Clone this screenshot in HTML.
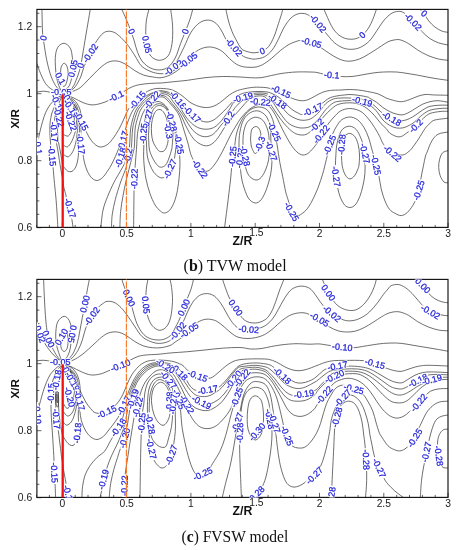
<!DOCTYPE html>
<html lang="en"><head><meta charset="utf-8"><title>Contours</title>
<style>html,body{margin:0;padding:0;background:#fff}svg{display:block}</style></head><body>
<svg width="459" height="550" viewBox="0 0 459 550">
<rect width="459" height="550" fill="#fff"/>
<g>
<clipPath id="c0"><rect x="36.9" y="9.4" width="411.1" height="218.0"/></clipPath>
<g clip-path="url(#c0)" fill="none" stroke="#303030" stroke-width="0.7">
<path d="M41.9 9.4C42.0 11.3 42.1 17.0 42.2 21.0C42.3 25.0 42.3 29.4 42.6 33.2C42.9 37.0 43.3 39.3 44.0 43.7C44.7 48.1 45.6 54.4 46.6 59.4C47.6 64.3 48.8 69.3 50.1 73.4C51.4 77.5 53.0 81.1 54.5 83.8C56.0 86.5 57.5 88.0 58.8 89.5C60.1 91.0 61.7 92.2 62.3 92.8"/>
<path d="M36.9 63.5C37.5 65.2 39.0 70.0 40.5 73.4C42.0 76.8 43.7 81.0 45.7 83.8C47.7 86.6 50.4 88.5 52.7 90.0C55.0 91.5 58.1 92.2 59.7 92.8C61.3 93.4 61.5 93.4 62.5 93.4C63.5 93.4 64.7 93.2 66.0 92.8C67.3 92.4 68.6 92.0 70.2 91.0C71.8 90.0 73.7 88.8 75.4 86.5C77.2 84.2 79.2 80.2 80.7 76.9C82.2 73.6 82.5 70.3 84.1 66.4C85.7 62.5 88.4 57.2 90.3 53.3C92.2 49.4 93.6 45.9 95.5 42.8C97.4 39.7 99.7 36.5 101.6 34.6C103.5 32.7 104.9 31.8 107.0 31.4C109.1 31.0 111.7 31.3 114.0 32.3C116.3 33.3 118.7 35.4 121.0 37.6C123.3 39.8 125.7 42.4 128.0 45.4C130.3 48.4 132.8 52.5 135.0 55.9C137.2 59.2 138.7 63.0 141.0 65.5C143.3 68.0 146.1 69.4 148.9 70.7C151.7 72.0 154.7 73.0 157.6 73.4C160.5 73.8 163.8 74.0 166.4 73.0C169.0 72.0 171.5 69.8 173.4 67.5C175.3 65.2 176.1 62.8 177.9 59.4C179.7 56.0 181.8 51.7 184.0 47.2C186.2 42.7 188.4 36.4 191.0 32.3C193.6 28.2 196.8 24.7 199.7 22.7C202.6 20.7 205.6 20.0 208.4 20.1C211.2 20.2 214.0 21.6 216.3 23.6C218.6 25.6 220.7 29.4 222.4 32.3C224.2 35.2 224.9 38.3 226.8 41.0C228.7 43.7 231.0 46.0 233.8 48.5C236.6 51.0 240.7 54.6 243.4 56.3C246.1 58.0 247.9 58.0 250.0 58.5C252.1 59.0 253.3 59.3 255.7 59.0C258.1 58.7 261.7 58.3 264.5 56.8C267.3 55.3 270.0 52.7 272.3 49.8C274.6 46.9 276.5 42.9 278.4 39.3C280.3 35.7 281.6 31.5 283.7 28.0C285.8 24.5 288.4 20.6 290.7 18.3C293.0 16.0 295.3 14.8 297.6 14.0C299.9 13.2 302.4 13.2 304.6 13.6C306.8 14.0 308.4 14.9 310.7 16.6C313.0 18.3 315.7 20.9 318.5 24.0C321.3 27.1 324.8 31.9 327.5 35.0C330.2 38.1 331.9 40.6 334.5 42.8C337.1 45.0 340.3 46.9 343.2 48.0C346.1 49.1 349.1 49.4 352.0 49.3C354.9 49.2 357.8 48.6 360.7 47.2C363.6 45.8 366.8 43.6 369.4 41.0C372.0 38.4 374.1 34.7 376.4 31.4C378.7 28.1 380.9 24.0 383.4 21.0C385.9 18.0 388.7 15.2 391.2 13.6C393.7 12.0 396.0 11.5 398.2 11.4C400.4 11.3 401.8 11.4 404.3 13.1C406.8 14.8 410.1 18.8 413.0 21.8C415.9 24.9 419.0 28.6 421.8 31.4C424.6 34.2 426.9 36.5 429.7 38.4C432.5 40.3 435.3 41.7 438.4 42.8C441.4 43.9 446.4 44.6 448.0 45.0"/>
<path d="M62.3 92.8C61.7 91.6 59.8 88.5 58.8 85.6C57.8 82.6 56.8 79.8 56.2 75.1C55.6 70.4 55.0 62.2 55.3 57.6C55.6 53.0 56.4 49.6 57.9 47.2C59.4 44.8 62.0 43.2 64.1 43.3C66.1 43.4 68.8 45.6 70.2 48.0C71.6 50.4 71.9 54.2 72.4 57.6C72.9 61.0 73.4 64.9 73.3 68.1C73.2 71.3 72.6 74.0 71.9 76.9C71.2 79.8 70.5 83.3 69.3 85.6C68.1 87.9 66.0 89.3 64.9 90.5C63.8 91.7 62.9 92.4 62.5 92.8"/>
<path d="M60.6 73.4C60.7 71.4 60.5 68.9 61.1 67.2C61.7 65.5 63.1 63.3 64.1 63.2C65.1 63.1 66.3 64.7 67.0 66.4C67.7 68.1 68.1 70.8 68.1 73.4C68.0 76.0 67.4 79.9 66.7 82.1C66.0 84.3 65.0 86.2 64.1 86.5C63.2 86.8 62.1 85.2 61.5 84.0C60.9 82.8 60.4 80.8 60.3 79.0C60.1 77.2 60.5 75.4 60.6 73.4Z"/>
<path d="M90.3 9.4C89.7 12.8 88.0 22.8 86.8 29.7C85.6 36.6 84.3 44.7 83.3 50.7C82.3 56.7 81.6 61.4 80.7 65.5C79.8 69.6 79.2 71.8 78.0 75.1C76.8 78.4 75.2 83.0 73.7 85.6C72.2 88.2 71.0 89.6 69.3 90.8C67.5 92.0 64.2 92.6 63.2 93.0"/>
<path d="M36.9 92.0C38.1 91.9 41.6 91.2 43.9 91.2C46.1 91.2 48.4 92.0 50.4 92.3C52.4 92.6 53.8 93.0 55.7 93.2C57.6 93.4 60.1 93.6 62.0 93.6C63.9 93.6 65.0 93.4 67.0 93.0C69.0 92.6 71.4 92.0 73.7 91.0C76.0 90.0 78.1 89.4 80.7 87.3C83.3 85.2 86.2 81.8 89.4 78.6C92.6 75.4 96.7 70.9 99.9 68.1C103.1 65.3 105.8 63.2 108.7 62.0C111.6 60.8 114.6 60.7 117.5 61.1C120.4 61.5 123.3 63.0 126.2 64.6C129.1 66.2 132.0 69.0 134.9 70.7C137.8 72.5 140.8 74.1 143.7 75.1C146.6 76.1 149.5 76.5 152.4 76.9C155.3 77.3 158.1 78.0 161.0 77.7C163.9 77.4 166.8 76.5 170.0 75.0C173.2 73.5 176.9 71.0 180.0 68.5C183.1 66.0 185.6 63.1 188.3 60.3C191.0 57.5 193.4 53.6 196.2 51.5C199.0 49.4 202.0 48.2 204.9 47.5C207.8 46.8 210.8 46.8 213.7 47.5C216.6 48.2 219.8 49.7 222.4 51.5C225.0 53.3 227.1 56.4 229.4 58.5C231.7 60.6 234.1 62.8 236.4 64.2C238.7 65.6 241.1 66.3 243.4 66.8C245.7 67.3 247.9 67.3 250.0 67.3C252.1 67.3 253.9 67.5 256.0 67.0C258.1 66.5 260.1 66.0 262.7 64.6C265.3 63.2 268.5 60.8 271.4 58.5C274.3 56.2 277.3 53.0 280.2 50.7C283.1 48.4 286.3 46.0 288.9 44.5C291.5 43.0 293.9 42.3 295.9 41.6C297.9 40.9 298.4 40.3 301.0 40.5C303.6 40.7 308.1 41.5 311.5 42.7C314.9 44.0 318.4 46.2 321.4 48.0C324.3 49.8 326.4 51.5 329.2 53.3C332.0 55.0 335.1 57.2 338.0 58.5C340.9 59.8 343.8 60.8 346.7 61.1C349.6 61.4 352.5 61.0 355.4 60.3C358.3 59.6 361.2 58.3 364.1 56.8C367.0 55.3 370.0 53.3 372.9 51.5C375.8 49.7 379.1 47.4 381.6 45.8C384.1 44.2 385.9 42.8 388.0 41.8C390.1 40.8 392.0 40.3 394.0 40.0C396.0 39.7 397.6 39.2 400.0 39.8C402.4 40.4 405.8 42.0 408.7 43.7C411.6 45.4 414.2 47.8 417.4 49.8C420.6 51.8 424.4 54.0 427.9 55.5C431.4 57.0 435.0 58.2 438.4 59.0C441.8 59.8 446.4 60.1 448.0 60.3"/>
<path d="M121.8 9.4C122.5 11.0 124.9 16.1 126.2 19.2C127.5 22.3 128.4 24.5 129.7 28.0C131.0 31.5 132.7 36.1 134.0 40.2C135.3 44.3 136.1 48.8 137.6 52.4C139.1 56.0 140.6 59.4 142.8 62.0C145.0 64.6 147.9 66.8 150.7 68.1C153.5 69.4 156.5 70.1 159.4 69.9C162.3 69.8 165.5 69.2 168.1 67.2C170.7 65.2 173.1 61.9 175.2 58.0C177.3 54.1 178.8 48.1 180.5 43.7C182.2 39.3 183.8 35.5 185.4 31.4C187.0 27.3 188.8 22.9 190.0 19.2C191.2 15.5 192.2 11.0 192.7 9.4"/>
<path d="M148.9 9.4C148.5 11.3 146.8 16.7 146.3 21.0C145.8 25.3 145.7 31.1 145.8 35.0C145.9 38.9 146.0 41.0 146.8 44.5C147.6 48.0 148.6 53.3 150.7 55.9C152.8 58.5 156.5 60.3 159.4 60.3C162.3 60.3 166.0 58.7 168.1 55.9C170.2 53.1 171.2 48.7 172.0 43.7C172.8 38.8 172.8 31.9 172.6 26.2C172.4 20.5 171.0 12.2 170.7 9.4"/>
<path d="M225.9 9.4C226.3 11.3 227.5 17.3 228.5 21.0C229.5 24.7 230.6 27.9 232.0 31.4C233.4 34.9 235.6 39.0 237.2 41.9C238.8 44.8 240.0 47.3 241.6 48.9C243.2 50.5 244.9 50.9 247.0 51.5C249.1 52.1 251.4 52.9 254.0 52.8C256.6 52.7 259.9 52.1 262.4 51.0C264.9 49.9 266.9 48.7 268.8 46.3C270.7 43.9 272.5 40.1 274.0 36.7C275.5 33.4 276.4 29.7 277.6 26.2C278.8 22.7 280.1 18.5 281.0 15.7C281.9 12.9 282.5 10.4 282.8 9.4"/>
<path d="M324.0 9.4C324.6 10.8 326.1 14.4 327.5 17.5C328.9 20.6 330.8 25.1 332.7 28.0C334.6 30.9 336.5 33.2 338.8 35.0C341.1 36.8 343.9 38.2 346.7 38.8C349.5 39.4 352.8 39.4 355.4 38.8C358.0 38.2 360.2 36.8 362.4 35.0C364.6 33.2 366.8 30.6 368.5 28.0C370.2 25.4 371.6 22.3 372.9 19.2C374.2 16.1 375.8 11.0 376.4 9.4"/>
<path d="M420.0 9.4C420.7 10.1 422.5 11.7 424.0 13.6C425.5 15.5 427.0 18.8 428.8 21.0C430.6 23.2 432.7 25.3 434.9 27.0C437.1 28.7 439.7 30.2 441.9 31.1C444.1 32.0 447.0 32.1 448.0 32.3"/>
<path d="M64.6 94.2C66.1 94.8 70.7 96.6 73.8 98.0C76.9 99.4 80.0 101.4 83.0 102.6C86.0 103.8 89.0 104.8 92.0 104.9C95.0 105.0 98.5 104.1 101.3 103.3C104.1 102.5 106.5 101.5 109.0 100.3C111.5 99.1 113.6 97.9 116.3 96.3C119.0 94.7 122.6 92.3 125.2 90.7C127.8 89.1 129.6 87.9 132.0 86.9C134.4 85.9 136.7 85.2 139.8 84.6C142.9 84.0 147.0 83.7 150.5 83.4C154.0 83.1 157.8 83.2 161.0 83.0C164.2 82.8 165.6 82.5 170.0 82.1C174.4 81.6 181.7 81.0 187.5 80.3C193.3 79.6 199.2 78.3 205.0 77.7C210.8 77.1 216.6 76.6 222.4 76.5C228.2 76.4 235.2 76.8 239.9 77.0C244.6 77.2 247.0 77.6 250.5 77.7C254.0 77.8 257.5 78.1 261.0 77.7C264.5 77.3 267.9 76.2 271.4 75.5C274.9 74.8 277.9 74.0 282.0 73.4C286.1 72.8 291.3 72.2 296.0 72.0C300.7 71.8 306.5 71.9 310.0 72.0C313.5 72.1 314.7 72.1 317.0 72.5C319.3 72.9 321.5 73.8 324.0 74.2C326.5 74.6 328.9 74.7 331.8 75.1C334.7 75.5 338.0 76.3 341.4 76.5C344.8 76.7 348.5 76.8 352.0 76.5C355.5 76.2 358.9 75.4 362.4 74.8C365.9 74.2 369.4 73.5 372.9 73.0C376.4 72.5 379.5 72.2 383.4 72.0C387.3 71.8 392.6 71.8 396.5 72.0C400.4 72.2 403.5 72.9 407.0 73.4C410.5 73.9 413.9 74.5 417.4 75.1C420.9 75.7 424.4 76.5 427.9 77.2C431.4 77.9 435.0 78.5 438.4 79.0C441.8 79.5 446.4 80.1 448.0 80.3"/>
<path d="M61.6 95.2C60.6 95.8 57.6 97.6 55.7 99.1C53.8 100.6 52.0 102.1 50.4 104.3C48.8 106.5 47.1 109.3 45.8 112.2C44.5 115.1 43.6 118.1 42.6 121.4C41.6 124.7 40.7 128.6 39.9 131.9C39.1 135.2 38.5 138.0 38.0 141.0C37.5 144.0 37.2 148.5 37.0 150.0"/>
<path d="M61.6 96.0C60.9 96.8 58.8 99.0 57.5 101.0C56.2 103.0 55.0 105.7 54.0 108.0C53.0 110.3 52.1 112.0 51.4 115.0C50.7 118.0 50.1 121.8 49.9 126.0C49.7 130.2 49.9 135.0 50.3 140.0C50.6 145.0 51.5 151.6 52.0 156.0C52.5 160.4 52.6 162.1 53.0 166.7C53.4 171.3 54.0 178.2 54.5 183.5C55.0 188.8 55.6 193.7 56.0 198.8C56.4 203.9 56.8 209.3 57.1 214.0C57.4 218.7 57.7 224.8 57.8 227.0"/>
<path d="M61.8 97.0C61.2 98.2 59.5 101.5 58.5 104.0C57.5 106.5 56.7 109.0 56.0 112.0C55.3 115.0 54.6 118.7 54.3 122.0C54.0 125.3 53.7 128.9 54.0 132.0C54.3 135.1 55.3 137.2 56.0 140.7C56.7 144.2 57.5 148.4 58.3 153.0C59.1 157.6 59.8 163.6 60.6 168.2C61.4 172.8 62.4 177.4 62.9 180.5C63.4 183.6 63.2 184.1 63.7 186.6C64.2 189.1 65.4 193.1 66.0 195.7C66.6 198.2 66.8 199.8 67.5 201.9C68.2 204.0 69.2 205.0 70.0 208.0C70.8 211.0 71.5 216.8 72.0 220.0C72.5 223.2 72.8 225.8 73.0 227.0"/>
<path d="M57.2 124.0C57.4 126.8 57.7 135.9 58.3 140.7C58.9 145.5 59.9 148.9 60.6 153.0C61.3 157.1 62.3 163.0 62.6 165.0"/>
<path d="M57.5 101.0C58.1 100.7 59.1 103.8 59.5 106.0C59.9 108.2 60.0 111.7 59.8 114.0C59.6 116.3 59.0 119.7 58.5 120.0C58.0 120.3 56.9 118.0 56.5 116.0C56.1 114.0 55.8 110.5 56.0 108.0C56.2 105.5 56.9 101.3 57.5 101.0Z"/>
<path d="M58.0 104.0C58.3 104.3 58.7 107.2 58.8 109.0C58.9 110.8 58.7 114.5 58.5 115.0C58.3 115.5 57.7 113.3 57.5 112.0C57.3 110.7 57.1 108.3 57.2 107.0C57.3 105.7 57.7 103.7 58.0 104.0Z"/>
<path d="M63.7 134.6C64.5 134.8 66.9 136.8 68.3 136.0C69.7 135.2 71.0 132.3 72.0 130.0C73.0 127.7 73.6 125.0 74.0 122.0C74.4 119.0 74.8 115.0 74.5 112.0C74.2 109.0 73.2 106.2 72.0 104.0C70.8 101.8 68.4 99.8 67.0 98.5C65.6 97.2 64.1 96.4 63.5 96.0"/>
<path d="M63.7 145.3C64.3 145.6 66.2 147.3 67.5 146.8C68.8 146.3 70.1 144.2 71.3 142.2C72.5 140.2 73.6 137.0 74.4 134.6C75.2 132.2 75.6 130.8 75.9 128.0C76.2 125.2 76.7 121.3 76.5 118.0C76.3 114.7 75.6 110.8 74.5 108.0C73.4 105.2 71.8 102.9 70.0 101.0C68.2 99.1 65.0 97.2 64.0 96.5"/>
<path d="M63.7 154.5C64.5 154.9 66.8 157.3 68.3 156.8C69.8 156.3 71.6 153.8 72.9 151.4C74.2 149.0 75.2 145.0 75.9 142.2C76.6 139.4 76.7 137.3 77.0 134.6C77.3 131.9 77.6 128.9 77.8 126.0C78.0 123.1 78.3 120.0 78.0 117.0C77.7 114.0 77.1 110.7 76.0 108.0C74.9 105.3 73.4 103.0 71.5 101.0C69.6 99.0 65.7 96.8 64.5 96.0"/>
<path d="M63.7 166.7C64.3 167.4 66.1 170.2 67.5 171.0C68.9 171.8 70.7 172.0 72.1 171.3C73.5 170.6 74.9 168.8 75.9 166.7C76.9 164.6 77.5 161.3 77.9 159.0C78.3 156.7 78.3 156.2 78.5 153.0C78.7 149.8 78.8 144.2 79.0 140.0C79.2 135.8 79.5 131.8 79.5 128.0C79.5 124.2 79.6 120.3 79.3 117.0C79.0 113.7 78.5 110.7 77.5 108.0C76.5 105.3 75.1 103.0 73.0 101.0C70.9 99.0 66.3 96.7 65.0 95.8"/>
<path d="M64.5 95.0C65.4 95.8 68.2 97.7 70.0 99.5C71.8 101.3 73.6 103.8 75.0 106.0C76.4 108.2 77.4 110.5 78.5 113.0C79.6 115.5 80.3 118.3 81.4 121.0C82.5 123.7 83.9 126.6 85.2 129.3C86.5 132.0 87.5 134.6 89.0 137.0C90.5 139.4 92.5 142.2 94.4 143.9C96.3 145.6 98.3 146.9 100.5 147.0C102.7 147.1 105.2 146.1 107.4 144.6C109.6 143.1 111.6 140.4 113.5 137.8C115.4 135.2 117.3 132.1 118.9 129.3C120.5 126.5 121.7 123.7 123.0 121.0C124.3 118.3 125.3 115.3 126.5 113.0C127.7 110.7 128.2 109.2 130.0 107.0C131.8 104.8 135.1 102.2 137.5 100.0C139.9 97.8 142.1 95.2 144.3 93.5C146.5 91.8 148.2 90.8 150.5 90.0C152.8 89.2 154.9 88.5 158.0 88.4C161.1 88.3 166.1 88.6 169.2 89.2C172.3 89.8 174.2 90.8 176.8 92.2C179.4 93.6 182.3 95.9 184.5 97.6C186.7 99.3 188.0 101.0 190.0 102.3C192.0 103.6 194.4 104.8 196.6 105.6C198.8 106.4 200.8 107.0 203.0 107.3C205.2 107.6 207.5 107.7 209.7 107.3C211.9 106.9 214.0 106.2 216.2 105.0C218.4 103.8 220.6 102.1 222.8 100.4C225.0 98.7 227.1 96.5 229.3 95.0C231.5 93.5 233.7 92.2 235.9 91.2C238.1 90.2 239.5 89.9 242.4 89.2C245.3 88.5 249.7 87.6 253.6 87.3C257.5 87.0 262.8 87.3 265.9 87.6C269.0 87.9 269.5 88.5 272.0 89.2C274.5 89.9 278.8 90.5 281.0 91.5C283.2 92.5 283.5 94.2 285.4 95.3C287.3 96.4 289.8 97.4 292.2 98.3C294.6 99.2 297.3 100.3 299.9 100.6C302.4 100.9 304.9 100.7 307.5 99.9C310.1 99.1 312.6 97.3 315.2 96.0C317.8 94.7 320.2 93.1 322.8 92.2C325.4 91.3 327.5 90.8 330.5 90.4C333.5 90.0 337.9 90.2 341.0 90.0C344.1 89.8 346.3 89.5 349.2 89.5C352.1 89.5 355.2 89.7 358.3 90.0C361.4 90.3 364.2 90.9 367.5 91.5C370.8 92.1 374.9 92.8 377.9 93.8C380.9 94.8 383.1 96.7 385.7 97.8C388.3 98.9 391.0 99.8 393.6 100.4C396.2 101.1 398.9 101.8 401.5 101.7C404.1 101.6 406.7 100.6 409.3 99.7C411.9 98.8 414.6 97.4 417.2 96.5C419.8 95.6 422.1 94.8 425.0 94.5C427.9 94.2 431.1 94.9 434.9 95.0C438.7 95.1 445.8 95.2 448.0 95.3"/>
<path d="M65.5 95.5C66.9 96.2 71.8 98.1 74.0 100.0C76.2 101.9 77.8 104.5 79.0 107.0C80.2 109.5 80.6 112.0 81.0 115.0C81.4 118.0 81.2 121.7 81.2 125.0C81.2 128.3 80.9 131.8 80.8 135.0C80.7 138.2 80.3 141.0 80.6 144.0C80.9 147.0 82.2 150.0 82.8 153.0C83.4 156.0 83.5 158.9 84.3 162.0C85.1 165.1 86.1 168.6 87.4 171.3C88.7 174.0 90.3 176.7 92.0 178.2C93.7 179.7 95.5 180.6 97.3 180.5C99.1 180.4 101.0 178.9 102.7 177.4C104.4 175.9 106.0 173.2 107.3 171.3C108.6 169.4 109.4 168.4 110.7 166.0C112.0 163.6 113.8 160.0 115.3 156.7C116.8 153.4 118.6 148.6 119.9 146.0C121.2 143.4 122.2 143.5 123.0 141.0C123.8 138.5 124.1 134.5 125.0 131.0C125.9 127.5 127.2 123.3 128.5 120.0C129.8 116.7 131.1 113.5 132.5 111.0C133.9 108.5 135.5 106.8 137.0 105.0C138.5 103.2 139.8 101.6 141.5 100.0C143.2 98.4 145.0 96.8 147.0 95.5C149.0 94.2 151.2 93.3 153.5 92.5C155.8 91.7 158.1 90.6 161.0 90.7C163.9 90.8 168.3 92.0 170.7 93.0C173.1 94.0 173.2 94.8 175.3 96.8C177.4 98.8 180.2 102.1 183.0 105.0C185.8 107.9 189.7 112.0 192.0 114.4C194.3 116.8 195.3 118.5 196.7 119.5C198.1 120.5 198.8 120.3 200.5 120.7C202.2 121.1 204.8 122.1 207.0 122.0C209.2 121.9 211.4 121.2 213.6 120.0C215.8 118.8 217.8 116.8 220.0 114.8C222.2 112.8 224.7 110.3 226.7 108.2C228.7 106.1 230.2 104.2 232.0 102.3C233.8 100.3 235.5 98.0 237.2 96.5C238.9 95.0 240.3 94.2 242.4 93.5C244.5 92.8 247.4 92.3 250.0 92.0C252.6 91.7 255.3 91.5 258.0 91.5C260.7 91.5 263.7 91.5 266.0 91.8C268.3 92.1 269.8 92.5 272.0 93.5C274.2 94.5 276.7 95.8 279.0 97.5C281.3 99.2 283.8 102.0 286.0 104.0C288.2 106.0 290.0 108.0 292.0 109.5C294.0 111.0 296.2 112.2 298.0 113.0C299.8 113.8 300.5 114.9 303.0 114.5C305.5 114.1 309.7 112.3 312.9 110.5C316.1 108.7 319.3 105.5 322.0 103.5C324.7 101.5 326.6 99.5 329.0 98.3C331.4 97.0 334.1 96.5 336.6 96.0C339.1 95.5 342.0 95.2 344.2 95.0C346.4 94.8 347.6 94.5 350.0 94.5C352.4 94.5 355.4 94.9 358.3 95.3C361.2 95.7 365.6 96.5 367.5 97.0C369.4 97.5 368.5 97.5 370.0 98.4C371.5 99.3 374.4 100.8 376.6 102.3C378.8 103.8 380.8 106.1 383.0 107.6C385.2 109.1 387.5 110.4 389.7 111.5C391.9 112.6 394.0 113.5 396.2 114.0C398.4 114.5 400.6 115.1 402.8 114.8C405.0 114.5 407.1 113.3 409.3 112.2C411.5 111.1 413.7 109.5 415.9 108.2C418.1 106.9 420.0 105.4 422.4 104.3C424.8 103.2 427.4 102.3 430.0 101.7C432.6 101.1 435.0 100.6 438.0 100.7C441.0 100.8 446.3 102.0 448.0 102.2"/>
<path d="M100.8 227.4C101.2 224.5 101.9 215.3 103.0 210.2C104.1 205.0 105.8 201.1 107.6 196.5C109.4 191.9 111.8 186.8 113.8 182.7C115.8 178.6 118.2 175.1 119.9 172.0C121.7 168.9 123.0 166.8 124.3 164.0C125.6 161.2 126.6 158.0 127.5 155.0C128.4 152.0 129.0 150.2 129.5 146.0C130.0 141.8 130.0 134.3 130.5 130.0C131.0 125.7 131.6 123.3 132.5 120.0C133.4 116.7 134.6 112.8 136.0 110.0C137.4 107.2 139.6 105.2 141.0 103.5C142.4 101.8 143.0 100.9 144.5 99.5C146.0 98.1 148.1 96.2 150.0 95.0C151.9 93.8 153.8 93.0 156.0 92.5C158.2 92.0 160.7 91.7 163.0 92.0C165.3 92.3 168.0 93.3 170.0 94.5C172.0 95.7 173.3 96.9 175.0 99.0C176.7 101.1 178.2 104.0 180.0 107.0C181.8 110.0 183.8 114.1 186.0 117.0C188.2 119.9 190.8 122.7 193.0 124.5C195.2 126.3 197.0 127.2 199.0 128.0C201.0 128.8 203.0 129.1 205.0 129.2C207.0 129.3 209.1 129.1 211.0 128.6C212.9 128.1 214.4 127.3 216.2 126.0C217.9 124.7 219.8 122.8 221.5 120.7C223.2 118.6 225.2 115.7 226.7 113.5C228.2 111.3 229.4 109.5 230.6 107.6C231.8 105.7 231.9 104.1 233.9 102.3C235.9 100.5 239.7 97.9 242.4 96.5C245.1 95.1 247.4 94.6 250.0 94.0C252.6 93.4 255.3 93.1 258.0 93.0C260.7 92.9 263.8 92.9 266.0 93.5C268.2 94.1 269.1 95.2 271.0 96.5C272.9 97.8 275.3 99.4 277.3 101.4C279.3 103.4 281.0 106.2 283.0 108.5C285.0 110.8 286.9 113.2 289.2 115.0C291.5 116.8 294.5 118.1 296.8 119.0C299.1 119.9 300.7 120.3 303.0 120.3C305.3 120.3 308.1 120.0 310.6 118.8C313.1 117.6 315.6 115.5 318.2 113.0C320.8 110.5 323.3 105.8 325.9 103.5C328.4 101.2 331.0 99.9 333.5 99.0C336.0 98.1 338.4 98.2 341.0 98.0C343.6 97.8 346.2 97.9 349.0 98.0C351.8 98.1 355.2 98.2 358.0 98.6C360.8 99.0 364.0 99.9 366.0 100.5C368.0 101.1 368.5 101.3 370.0 102.3C371.5 103.3 373.4 104.8 375.2 106.3C376.9 107.8 378.7 110.0 380.5 111.5C382.3 113.0 384.1 114.3 386.0 115.5C387.9 116.7 389.8 117.9 391.6 118.7C393.4 119.5 395.1 120.2 397.0 120.5C398.9 120.8 400.8 121.0 402.8 120.7C404.9 120.4 407.1 119.7 409.3 118.7C411.5 117.7 413.7 116.2 415.9 114.8C418.1 113.4 420.0 111.6 422.4 110.2C424.8 108.8 427.1 107.1 430.0 106.3C432.9 105.5 437.0 105.4 440.0 105.2C443.0 105.0 446.7 105.2 448.0 105.2"/>
<path d="M111.5 227.4C111.6 225.3 111.6 219.5 112.2 214.8C112.8 210.2 114.0 204.6 115.3 199.5C116.6 194.4 118.4 188.8 119.9 184.2C121.4 179.6 123.2 175.5 124.5 172.0C125.8 168.5 126.6 165.8 127.5 163.0C128.4 160.2 129.3 157.8 130.0 155.0C130.7 152.2 131.1 150.2 131.5 146.0C131.9 141.8 132.0 134.3 132.5 130.0C133.0 125.7 133.6 123.3 134.5 120.0C135.4 116.7 136.6 112.8 138.0 110.0C139.4 107.2 141.6 105.2 143.0 103.5C144.4 101.8 145.0 101.2 146.5 100.0C148.0 98.8 150.2 97.4 152.0 96.5C153.8 95.6 155.2 95.0 157.0 94.5C158.8 94.0 161.0 93.5 163.0 93.7C165.0 94.0 167.3 94.7 169.0 96.0C170.7 97.3 171.5 99.5 173.0 101.5C174.5 103.5 176.4 105.8 178.0 108.0C179.6 110.2 180.9 112.0 182.6 114.5C184.2 117.0 186.2 120.6 187.9 123.3C189.7 126.0 191.1 128.5 193.1 130.5C195.1 132.5 197.5 134.4 199.7 135.4C201.9 136.4 204.0 136.8 206.2 136.7C208.4 136.5 210.8 135.8 212.8 134.5C214.8 133.2 216.5 130.9 218.0 129.2C219.5 127.4 220.3 125.6 222.0 124.0C223.7 122.4 226.1 121.7 228.0 119.4C229.9 117.1 231.8 112.6 233.3 110.2C234.8 107.8 235.7 106.9 237.2 105.3C238.7 103.7 240.3 102.0 242.4 100.5C244.5 99.0 247.4 97.0 250.0 96.0C252.6 95.0 255.5 94.7 258.0 94.5C260.5 94.3 263.0 94.3 265.0 95.0C267.0 95.7 268.3 96.8 270.0 98.5C271.7 100.2 273.3 103.1 275.0 105.5C276.7 107.9 277.9 110.2 280.0 113.0C282.1 115.8 285.1 120.2 287.6 122.5C290.2 124.8 292.7 125.9 295.3 126.8C297.9 127.7 300.4 128.1 303.0 128.0C305.6 127.9 308.1 127.7 310.6 126.3C313.1 124.9 315.6 122.3 318.2 119.5C320.8 116.7 323.3 112.3 325.9 109.5C328.4 106.7 331.1 104.2 333.5 102.8C335.9 101.4 337.1 101.6 340.0 101.2C342.9 100.8 347.0 100.6 350.7 100.6C354.4 100.6 359.0 100.6 362.2 101.4C365.4 102.2 367.7 104.0 370.0 105.5C372.3 107.0 373.8 108.1 376.0 110.5C378.2 112.9 380.7 117.5 383.0 120.0C385.3 122.5 387.5 124.0 389.7 125.3C391.9 126.6 394.0 127.5 396.2 127.9C398.4 128.3 400.6 128.3 402.8 127.9C405.0 127.5 407.4 126.3 409.3 125.3C411.2 124.3 412.3 123.8 414.5 122.0C416.7 120.2 419.8 116.8 422.4 114.8C425.0 112.8 427.1 111.2 430.0 110.2C432.9 109.2 437.0 108.8 440.0 108.5C443.0 108.2 446.7 108.3 448.0 108.3"/>
<path d="M119.9 227.4C120.0 224.8 120.1 216.8 120.6 211.7C121.1 206.5 122.0 201.6 122.9 196.5C123.8 191.4 124.8 186.3 126.0 181.2C127.2 176.1 128.7 170.5 129.8 165.9C131.0 161.3 132.1 156.9 132.9 153.6C133.7 150.3 134.1 149.9 134.4 146.0C134.8 142.1 134.6 134.3 135.0 130.0C135.4 125.7 136.1 123.3 137.0 120.0C137.9 116.7 139.1 112.8 140.5 110.0C141.9 107.2 144.1 105.2 145.5 103.5C146.9 101.8 147.6 101.0 149.0 100.0C150.4 99.0 152.4 98.2 154.0 97.5C155.6 96.8 157.0 96.3 158.5 96.0C160.0 95.7 161.5 95.2 163.0 95.5C164.5 95.8 166.0 96.7 167.5 98.0C169.0 99.3 170.4 101.6 172.0 103.5C173.6 105.4 175.4 107.4 177.0 109.5C178.6 111.6 179.9 113.5 181.3 116.0C182.7 118.5 183.7 121.5 185.2 124.6C186.7 127.7 188.8 131.8 190.5 134.5C192.2 137.2 193.7 139.2 195.7 141.0C197.7 142.8 200.2 144.2 202.3 145.0C204.4 145.8 206.2 146.0 208.2 145.6C210.1 145.2 212.2 143.9 214.0 142.3C215.8 140.7 217.5 138.3 219.3 135.8C221.1 133.3 223.0 129.7 224.6 127.3C226.2 124.9 227.6 123.3 229.0 121.5C230.4 119.7 231.7 118.2 233.3 116.5C234.9 114.8 236.6 113.2 238.5 111.0C240.4 108.8 242.9 105.7 245.0 103.5C247.1 101.3 248.8 99.2 251.0 98.0C253.2 96.8 255.8 96.2 258.0 96.0C260.2 95.8 262.3 95.8 264.0 96.5C265.7 97.2 266.5 98.1 268.0 100.0C269.5 101.9 271.0 105.0 273.0 108.0C275.0 111.0 277.6 115.0 280.0 118.2C282.4 121.4 285.1 124.9 287.6 127.4C290.2 130.0 292.7 132.2 295.3 133.5C297.9 134.8 300.7 135.1 303.0 135.0C305.3 134.9 306.7 134.4 309.0 132.7C311.3 131.0 314.1 127.8 316.7 125.0C319.2 122.2 322.0 118.5 324.3 116.0C326.6 113.5 328.2 111.7 330.5 109.8C332.8 107.9 334.7 105.7 337.9 104.5C341.1 103.3 346.0 102.8 349.7 102.8C353.4 102.8 356.9 103.4 360.0 104.5C363.1 105.6 365.6 107.3 368.0 109.2C370.4 111.1 372.4 113.3 374.6 115.7C376.8 118.1 379.0 121.4 381.0 123.6C383.0 125.8 384.9 127.2 386.4 128.8C387.8 130.4 388.1 131.7 389.7 133.0C391.3 134.3 394.2 135.8 396.2 136.4C398.2 137.0 399.8 137.0 401.5 136.4C403.2 135.8 404.3 134.7 406.7 133.0C409.1 131.3 413.1 128.5 415.9 126.0C418.7 123.5 421.3 120.1 423.7 118.0C426.1 115.9 427.3 114.6 430.0 113.5C432.7 112.4 437.0 111.9 440.0 111.5C443.0 111.1 446.7 111.3 448.0 111.3"/>
<path d="M133.6 227.4C133.7 221.5 133.9 200.1 134.0 192.0C134.1 183.9 134.2 184.1 134.4 179.0C134.7 173.9 135.1 166.8 135.5 161.3C135.9 155.8 136.4 150.6 136.7 146.0C137.0 141.4 136.9 137.9 137.5 133.5C138.1 129.1 139.4 123.6 140.5 119.8C141.6 116.0 142.4 113.9 144.3 110.6C146.2 107.3 149.7 102.2 152.0 100.0C154.3 97.8 156.2 98.0 158.0 97.5C159.8 97.0 161.5 96.6 163.0 97.0C164.5 97.4 165.5 98.6 167.0 100.0C168.5 101.4 170.4 103.7 172.0 105.5C173.6 107.3 175.2 109.0 176.5 111.0C177.8 113.0 178.8 114.3 180.0 117.5C181.2 120.7 182.6 125.8 183.9 130.0C185.2 134.2 186.8 139.1 187.9 143.0C189.0 146.9 189.6 150.6 190.6 153.6C191.6 156.6 192.5 158.4 194.0 161.0C195.5 163.6 197.6 167.3 199.8 169.0C202.0 170.7 205.1 171.7 207.4 171.2C209.7 170.7 211.5 168.3 213.5 165.9C215.5 163.5 217.6 160.1 219.6 156.7C221.6 153.3 223.6 149.2 225.4 145.6C227.2 142.0 228.8 138.3 230.6 135.0C232.3 131.7 234.2 128.8 235.9 126.0C237.6 123.2 239.2 120.3 241.0 118.0C242.8 115.7 244.6 113.8 246.4 112.0C248.2 110.2 249.7 108.8 252.0 107.5C254.3 106.2 257.8 104.3 260.5 104.0C263.2 103.7 265.9 104.3 268.0 105.5C270.1 106.7 271.5 108.9 273.0 111.0C274.5 113.1 275.8 115.8 277.0 118.0C278.2 120.2 278.7 121.7 280.0 124.3C281.3 126.9 282.8 130.2 284.6 133.5C286.4 136.8 288.7 141.1 290.7 144.2C292.7 147.3 294.8 150.1 296.8 151.9C298.9 153.7 301.0 154.9 303.0 155.0C305.0 155.1 307.0 154.2 309.0 152.6C311.0 151.0 313.7 147.6 315.2 145.7C316.7 143.8 317.2 142.9 318.2 141.0C319.2 139.1 320.0 136.6 321.3 134.3C322.6 132.0 324.6 129.1 326.0 127.0C327.4 124.9 328.7 123.3 330.0 121.6C331.3 119.9 332.2 118.8 334.0 117.0C335.8 115.2 337.9 112.4 340.5 111.0C343.1 109.6 346.4 108.5 349.7 108.5C352.9 108.5 356.9 109.4 360.0 111.0C363.1 112.6 365.6 115.5 368.0 118.3C370.4 121.0 372.6 124.4 374.6 127.5C376.6 130.6 378.3 133.8 379.8 136.7C381.3 139.5 381.6 141.9 383.7 144.6C385.8 147.3 389.3 151.3 392.5 153.0C395.7 154.7 400.1 155.3 402.8 155.0C405.5 154.7 407.4 152.5 408.9 151.4C410.4 150.3 410.4 150.3 412.0 148.2C413.6 146.1 416.3 142.3 418.5 139.0C420.7 135.7 423.1 131.2 425.0 128.6C426.9 126.0 428.4 124.7 430.0 123.3C431.6 121.9 431.9 120.8 434.9 120.0C437.9 119.2 445.8 118.5 448.0 118.2"/>
<path d="M143.8 146.0C143.8 149.8 143.5 152.7 143.6 156.0C143.7 159.3 143.8 162.2 144.2 166.0C144.6 169.8 145.1 174.4 146.0 179.0C146.9 183.6 148.4 189.0 149.9 193.3C151.4 197.6 153.3 202.1 155.1 205.0C156.8 207.9 158.9 209.7 160.4 211.0C161.9 212.3 162.8 213.1 164.3 213.0C165.8 212.9 168.0 212.1 169.6 210.3C171.2 208.5 172.8 205.7 174.1 202.4C175.4 199.1 176.6 194.8 177.4 190.6C178.2 186.4 178.8 181.1 179.2 177.0C179.6 172.9 179.8 169.8 179.9 165.9C180.0 162.0 179.8 157.2 179.6 153.6C179.4 149.9 179.5 147.3 179.0 144.0C178.5 140.7 177.2 137.0 176.5 134.0C175.8 131.0 175.3 129.0 174.5 126.0C173.7 123.0 172.7 118.9 171.5 116.0C170.3 113.1 169.0 110.6 167.6 108.5C166.2 106.4 164.6 104.7 163.0 103.5C161.4 102.3 159.7 101.5 158.0 101.5C156.3 101.5 154.5 102.2 153.0 103.5C151.5 104.8 150.3 106.6 149.0 109.0C147.7 111.4 146.2 113.9 145.3 118.0C144.4 122.1 143.8 128.8 143.6 133.5C143.3 138.2 143.8 142.2 143.8 146.0Z"/>
<path d="M146.6 146.0C146.8 149.8 146.8 152.9 147.3 156.0C147.8 159.1 148.7 161.8 149.8 164.5C150.9 167.2 152.3 170.2 153.8 172.3C155.3 174.4 157.5 176.1 159.0 177.0C160.5 177.9 161.5 178.1 163.0 177.8C164.5 177.5 166.6 176.8 168.0 175.3C169.4 173.8 170.4 171.9 171.5 169.0C172.6 166.1 173.8 161.8 174.5 158.0C175.2 154.2 175.8 149.8 176.0 146.0C176.2 142.2 175.9 138.5 175.5 135.0C175.1 131.5 174.3 128.2 173.5 125.0C172.7 121.8 171.7 118.3 170.5 115.5C169.3 112.7 167.9 109.9 166.5 108.0C165.1 106.1 163.6 105.0 162.0 104.3C160.4 103.6 158.6 103.5 157.0 104.0C155.4 104.5 153.8 105.6 152.5 107.0C151.2 108.4 150.4 110.2 149.5 112.5C148.6 114.8 147.8 117.6 147.3 121.0C146.8 124.4 146.4 128.8 146.3 133.0C146.2 137.2 146.4 142.2 146.6 146.0Z"/>
<path d="M149.5 150.0C150.2 152.9 151.8 156.6 153.2 159.2C154.6 161.8 156.4 164.4 157.8 165.7C159.2 167.0 160.2 167.3 161.5 167.2C162.8 167.0 164.6 166.3 165.8 164.8C167.1 163.3 168.1 160.5 169.0 158.0C169.9 155.5 171.0 152.1 171.5 150.0C172.0 147.9 171.9 148.9 172.2 145.7C172.4 142.4 173.2 135.1 173.0 130.5C172.8 125.9 171.8 121.5 170.7 118.0C169.6 114.5 167.9 111.5 166.5 109.5C165.1 107.5 163.5 106.6 162.0 106.0C160.5 105.4 158.8 105.4 157.5 105.8C156.2 106.2 154.9 107.4 154.0 108.5C153.1 109.6 152.7 110.6 152.0 112.5C151.3 114.4 150.4 116.6 149.8 120.0C149.2 123.4 148.8 129.3 148.6 133.0C148.4 136.7 148.7 139.2 148.8 142.0C149.0 144.8 148.8 147.1 149.5 150.0Z"/>
<path d="M155.5 146.5C156.6 148.2 158.0 150.6 159.5 151.3C161.0 152.0 163.2 151.8 164.5 150.5C165.8 149.2 166.9 146.4 167.6 143.5C168.3 140.6 168.5 136.4 168.5 133.0C168.5 129.6 168.2 125.9 167.6 122.8C167.0 119.7 166.1 116.7 165.0 114.5C163.9 112.3 162.4 110.5 161.0 109.8C159.6 109.1 157.8 109.5 156.5 110.5C155.2 111.5 154.1 113.8 153.3 116.0C152.5 118.2 151.9 121.2 151.6 124.0C151.3 126.8 151.3 130.2 151.5 133.0C151.7 135.8 152.1 138.8 152.8 141.0C153.5 143.2 154.4 144.8 155.5 146.5Z"/>
<path d="M224.6 227.4C225.1 223.5 226.7 211.2 227.6 204.0C228.5 196.8 229.3 190.0 230.0 184.2C230.7 178.4 231.1 173.6 231.5 169.0C231.9 164.4 232.0 160.4 232.5 156.7C233.0 153.0 234.0 150.4 234.6 147.0C235.2 143.6 235.2 139.9 235.9 136.4C236.6 132.9 237.7 129.3 239.0 126.0C240.3 122.7 241.9 119.5 243.7 116.8C245.5 114.1 247.6 111.6 250.0 110.0C252.4 108.4 255.3 107.2 258.0 107.0C260.7 106.8 263.8 107.6 266.0 109.0C268.2 110.4 269.7 113.0 271.0 115.5C272.3 118.0 273.3 121.1 274.0 124.0C274.7 126.9 274.4 129.0 275.0 132.7C275.6 136.4 276.5 141.2 277.3 146.0C278.1 150.8 278.7 156.2 279.6 161.3C280.5 166.4 281.7 171.5 282.7 176.6C283.7 181.7 284.8 188.1 285.7 191.9C286.6 195.7 287.0 196.2 288.0 199.5C289.0 202.8 290.2 208.9 291.5 211.7C292.8 214.5 294.8 215.7 296.0 216.3C297.2 217.0 297.3 216.6 299.0 215.6C300.7 214.6 303.8 212.6 306.0 210.2C308.2 207.8 310.0 204.8 312.0 201.0C314.0 197.2 316.4 191.9 318.2 187.3C320.0 182.7 321.5 177.8 322.8 173.5C324.1 169.2 325.1 164.4 325.9 161.3C326.7 158.2 326.8 157.8 327.4 155.0C328.0 152.2 328.8 147.7 329.7 144.2C330.6 140.7 331.5 137.0 332.6 134.0C333.8 131.0 335.1 128.6 336.6 126.2C338.1 123.8 339.6 121.2 341.8 119.7C344.0 118.2 347.1 117.0 349.7 117.0C352.3 117.0 355.1 118.0 357.5 119.7C359.9 121.5 362.1 124.5 364.0 127.5C365.9 130.6 367.4 134.3 368.7 138.0C370.0 141.7 371.1 146.7 372.0 149.8C372.9 152.9 373.4 153.9 374.0 156.4C374.6 158.9 375.1 161.6 375.9 165.0C376.7 168.4 378.1 172.6 379.0 176.6C379.9 180.6 380.2 184.7 381.2 188.8C382.2 192.9 383.6 197.6 385.0 201.0C386.4 204.4 387.9 207.3 389.6 209.4C391.3 211.5 393.1 212.3 395.0 213.3C396.9 214.3 399.1 215.7 401.2 215.6C403.2 215.5 405.4 214.2 407.3 212.5C409.2 210.8 411.2 208.0 412.7 205.6C414.2 203.2 415.5 200.6 416.5 198.0C417.5 195.4 418.1 193.6 418.8 190.3C419.6 187.0 420.2 182.1 421.0 178.0C421.8 173.9 422.6 169.6 423.4 165.9C424.1 162.2 424.9 158.3 425.5 156.0C426.1 153.7 426.1 154.4 427.2 151.9C428.2 149.4 430.0 143.9 431.8 141.0C433.6 138.1 435.2 135.8 437.9 134.3C440.6 132.8 446.3 132.4 448.0 132.0"/>
<path d="M239.9 132.0C239.1 136.6 238.9 140.9 239.0 147.3C239.1 153.7 239.9 164.3 240.6 170.5C241.3 176.7 241.7 179.6 243.0 184.2C244.3 188.8 246.3 194.9 248.3 198.0C250.3 201.1 253.0 202.8 255.2 203.0C257.4 203.2 259.4 201.9 261.3 199.5C263.2 197.1 265.1 192.9 266.6 188.8C268.1 184.7 269.6 179.6 270.5 175.0C271.4 170.4 271.9 165.5 272.0 161.3C272.1 157.1 271.4 153.9 271.2 150.0C271.0 146.1 271.0 142.0 270.8 138.0C270.6 134.0 270.8 129.7 270.0 126.0C269.2 122.3 267.9 118.5 266.0 116.0C264.1 113.5 261.1 111.6 258.5 111.0C255.9 110.4 253.1 111.1 250.6 112.5C248.1 113.9 245.5 116.2 243.7 119.5C241.9 122.8 240.7 127.4 239.9 132.0Z"/>
<path d="M243.0 145.7C242.9 141.4 242.9 136.0 243.7 132.0C244.4 128.0 245.6 124.3 247.5 121.8C249.4 119.3 252.6 117.5 255.2 117.2C257.8 117.0 260.8 118.3 262.8 120.3C264.8 122.3 266.4 126.0 267.4 129.0C268.4 131.9 268.7 134.5 269.0 138.0C269.3 141.5 269.4 146.4 269.3 150.0C269.2 153.6 269.2 156.6 268.6 159.8C268.0 163.0 267.1 166.1 265.9 169.0C264.7 171.9 262.9 175.5 261.3 177.3C259.7 179.1 257.9 180.1 256.0 180.0C254.1 179.9 251.5 178.4 249.8 176.6C248.1 174.8 246.9 172.1 246.0 169.0C245.1 165.9 244.7 161.9 244.2 158.0C243.7 154.1 243.1 150.0 243.0 145.7Z"/>
<path d="M252.9 150.3C253.5 151.6 254.2 153.4 255.0 153.5C255.8 153.6 257.2 152.6 258.0 151.0C258.8 149.4 259.5 146.4 260.0 144.0C260.5 141.6 261.0 138.8 261.0 136.6C261.0 134.3 260.7 132.2 260.0 130.5C259.3 128.8 258.0 126.8 256.7 126.6C255.4 126.3 253.0 127.1 252.0 129.0C251.0 130.9 250.7 135.2 250.6 138.0C250.5 140.8 250.9 143.9 251.3 146.0C251.7 148.1 252.3 149.1 252.9 150.3Z"/>
<path d="M335.4 165.9C335.4 162.3 335.7 158.3 335.9 155.0C336.1 151.7 336.1 149.2 336.6 145.9C337.2 142.6 338.1 138.2 339.2 135.4C340.3 132.6 341.2 130.3 343.0 128.8C344.8 127.3 347.5 126.1 349.7 126.2C351.9 126.3 354.3 127.5 356.2 129.5C358.1 131.5 359.6 135.2 360.8 138.0C362.0 140.8 362.6 142.3 363.3 146.0C364.0 149.7 364.6 155.4 364.9 160.0C365.2 164.6 365.2 169.2 364.9 173.5C364.6 177.8 363.8 182.0 362.9 185.8C362.0 189.6 361.1 193.3 359.8 196.5C358.5 199.7 356.9 203.1 355.2 204.9C353.5 206.7 351.7 207.5 349.9 207.5C348.1 207.5 346.1 206.7 344.5 204.9C342.9 203.1 341.1 199.4 340.0 196.5C338.9 193.6 338.3 190.6 337.6 187.3C336.9 184.0 336.4 180.2 336.0 176.6C335.6 173.0 335.4 169.5 335.4 165.9Z"/>
<path d="M341.5 155.0C341.4 151.7 341.4 148.5 341.5 146.0C341.6 143.5 341.3 141.7 341.8 140.0C342.3 138.3 343.1 137.1 344.4 136.0C345.7 134.9 347.9 133.3 349.7 133.4C351.4 133.5 353.5 134.8 354.9 136.7C356.3 138.6 357.4 141.5 358.2 144.6C359.0 147.7 359.4 151.6 359.5 155.0C359.6 158.4 359.3 162.5 359.0 165.0C358.7 167.5 358.2 168.2 357.5 170.0C356.8 171.8 355.8 174.3 354.5 175.8C353.2 177.3 351.4 179.0 349.9 178.9C348.4 178.8 346.6 177.2 345.3 175.0C344.0 172.8 342.8 169.2 342.2 165.9C341.6 162.6 341.6 158.3 341.5 155.0Z"/>
<path d="M448.0 150.6C447.1 151.0 443.9 151.4 442.5 152.9C441.1 154.4 440.1 157.4 439.5 159.8C438.9 162.2 438.6 164.7 438.7 167.4C438.8 170.1 439.3 173.4 440.2 175.8C441.1 178.2 442.7 180.8 444.0 182.0C445.3 183.2 447.3 182.6 448.0 182.7"/>
</g>
<g stroke="#222" stroke-width="0.7">
<line x1="36.6" y1="227.4" x2="36.6" y2="224.9"/>
<line x1="49.4" y1="227.4" x2="49.4" y2="224.9"/>
<line x1="62.3" y1="227.4" x2="62.3" y2="222.9"/>
<line x1="75.2" y1="227.4" x2="75.2" y2="224.9"/>
<line x1="88.0" y1="227.4" x2="88.0" y2="224.9"/>
<line x1="100.9" y1="227.4" x2="100.9" y2="224.9"/>
<line x1="113.7" y1="227.4" x2="113.7" y2="224.9"/>
<line x1="126.6" y1="227.4" x2="126.6" y2="222.9"/>
<line x1="139.5" y1="227.4" x2="139.5" y2="224.9"/>
<line x1="152.3" y1="227.4" x2="152.3" y2="224.9"/>
<line x1="165.2" y1="227.4" x2="165.2" y2="224.9"/>
<line x1="178.0" y1="227.4" x2="178.0" y2="224.9"/>
<line x1="190.9" y1="227.4" x2="190.9" y2="222.9"/>
<line x1="203.8" y1="227.4" x2="203.8" y2="224.9"/>
<line x1="216.6" y1="227.4" x2="216.6" y2="224.9"/>
<line x1="229.5" y1="227.4" x2="229.5" y2="224.9"/>
<line x1="242.3" y1="227.4" x2="242.3" y2="224.9"/>
<line x1="255.2" y1="227.4" x2="255.2" y2="222.9"/>
<line x1="268.1" y1="227.4" x2="268.1" y2="224.9"/>
<line x1="280.9" y1="227.4" x2="280.9" y2="224.9"/>
<line x1="293.8" y1="227.4" x2="293.8" y2="224.9"/>
<line x1="306.6" y1="227.4" x2="306.6" y2="224.9"/>
<line x1="319.5" y1="227.4" x2="319.5" y2="222.9"/>
<line x1="332.4" y1="227.4" x2="332.4" y2="224.9"/>
<line x1="345.2" y1="227.4" x2="345.2" y2="224.9"/>
<line x1="358.1" y1="227.4" x2="358.1" y2="224.9"/>
<line x1="370.9" y1="227.4" x2="370.9" y2="224.9"/>
<line x1="383.8" y1="227.4" x2="383.8" y2="222.9"/>
<line x1="396.7" y1="227.4" x2="396.7" y2="224.9"/>
<line x1="409.5" y1="227.4" x2="409.5" y2="224.9"/>
<line x1="422.4" y1="227.4" x2="422.4" y2="224.9"/>
<line x1="435.2" y1="227.4" x2="435.2" y2="224.9"/>
<line x1="448.1" y1="227.4" x2="448.1" y2="222.9"/>
<line x1="36.9" y1="227.7" x2="41.4" y2="227.7"/>
<line x1="36.9" y1="214.3" x2="39.4" y2="214.3"/>
<line x1="36.9" y1="200.9" x2="39.4" y2="200.9"/>
<line x1="36.9" y1="187.5" x2="39.4" y2="187.5"/>
<line x1="36.9" y1="174.1" x2="39.4" y2="174.1"/>
<line x1="36.9" y1="160.7" x2="41.4" y2="160.7"/>
<line x1="36.9" y1="147.3" x2="39.4" y2="147.3"/>
<line x1="36.9" y1="133.9" x2="39.4" y2="133.9"/>
<line x1="36.9" y1="120.5" x2="39.4" y2="120.5"/>
<line x1="36.9" y1="107.1" x2="39.4" y2="107.1"/>
<line x1="36.9" y1="93.7" x2="41.4" y2="93.7"/>
<line x1="36.9" y1="80.3" x2="39.4" y2="80.3"/>
<line x1="36.9" y1="66.9" x2="39.4" y2="66.9"/>
<line x1="36.9" y1="53.5" x2="39.4" y2="53.5"/>
<line x1="36.9" y1="40.1" x2="39.4" y2="40.1"/>
<line x1="36.9" y1="26.7" x2="41.4" y2="26.7"/>
<line x1="36.9" y1="13.3" x2="39.4" y2="13.3"/>
</g>
<rect x="36.9" y="9.4" width="411.1" height="218.0" fill="none" stroke="#111" stroke-width="1.15"/>
<g font-family="Liberation Sans, Arial, sans-serif" font-size="10.3" fill="#1a1a1a">
<text x="62.3" y="236.9" text-anchor="middle">0</text>
<text x="126.6" y="236.9" text-anchor="middle">0.5</text>
<text x="190.9" y="236.9" text-anchor="middle">1</text>
<text x="256.4" y="236.3" text-anchor="middle">1.5</text>
<text x="319.5" y="236.9" text-anchor="middle">2</text>
<text x="383.8" y="236.9" text-anchor="middle">2.5</text>
<text x="448.1" y="236.9" text-anchor="middle">3</text>
<text x="32.2" y="231.4" text-anchor="end">0.6</text>
<text x="32.2" y="164.4" text-anchor="end">0.8</text>
<text x="32.2" y="97.4" text-anchor="end">1</text>
<text x="32.2" y="30.4" text-anchor="end">1.2</text>
</g>
<text x="242.4" y="245.4" text-anchor="middle" font-family="Liberation Sans, Arial, sans-serif" font-weight="bold" font-size="12.3" fill="#111">Z/R</text>
<text transform="translate(18.8 118.8) rotate(-90)" text-anchor="middle" font-family="Liberation Sans, Arial, sans-serif" font-weight="bold" font-size="11.6" fill="#111">X/R</text>
<g clip-path="url(#c0)" font-family="Liberation Sans, Arial, sans-serif" font-size="9.0" fill="#2222d8" text-anchor="middle">
<g transform="translate(43.6 38.0) rotate(-75)"><rect x="-3.7" y="-1.8" width="7.4" height="3.6" fill="#fff" stroke="none"/><text y="3" stroke="#fff" stroke-width="1.3" fill="#fff">0</text><text y="3" stroke="#2222d8" stroke-width="0.25">0</text></g>
<g transform="translate(73.0 68.5) rotate(-78)"><rect x="-10.0" y="-1.8" width="19.9" height="3.6" fill="#fff" stroke="none"/><text y="3" stroke="#fff" stroke-width="1.3" fill="#fff">0.05</text><text y="3" stroke="#2222d8" stroke-width="0.25">0.05</text></g>
<g transform="translate(60.3 78.6) rotate(62)"><rect x="-7.5" y="-1.8" width="14.9" height="3.6" fill="#fff" stroke="none"/><text y="3" stroke="#fff" stroke-width="1.3" fill="#fff">0.1</text><text y="3" stroke="#2222d8" stroke-width="0.25">0.1</text></g>
<g transform="translate(80.7 65.5) rotate(-72)"><rect x="-3.7" y="-1.8" width="7.4" height="3.6" fill="#fff" stroke="none"/><text y="3" stroke="#fff" stroke-width="1.3" fill="#fff">0</text><text y="3" stroke="#2222d8" stroke-width="0.25">0</text></g>
<g transform="translate(90.3 53.3) rotate(-57)"><rect x="-11.5" y="-1.8" width="22.9" height="3.6" fill="#fff" stroke="none"/><text y="3" stroke="#fff" stroke-width="1.3" fill="#fff">-0.02</text><text y="3" stroke="#2222d8" stroke-width="0.25">-0.02</text></g>
<g transform="translate(61.3 92.2) rotate(0)"><rect x="-11.5" y="-1.8" width="22.9" height="3.6" fill="#fff" stroke="none"/><text y="3" stroke="#fff" stroke-width="1.3" fill="#fff">-0.05</text><text y="3" stroke="#2222d8" stroke-width="0.25">-0.05</text></g>
<g transform="translate(131.4 31.4) rotate(68)"><rect x="-3.7" y="-1.8" width="7.4" height="3.6" fill="#fff" stroke="none"/><text y="3" stroke="#fff" stroke-width="1.3" fill="#fff">0</text><text y="3" stroke="#2222d8" stroke-width="0.25">0</text></g>
<g transform="translate(146.8 44.5) rotate(78)"><rect x="-10.0" y="-1.8" width="19.9" height="3.6" fill="#fff" stroke="none"/><text y="3" stroke="#fff" stroke-width="1.3" fill="#fff">0.05</text><text y="3" stroke="#2222d8" stroke-width="0.25">0.05</text></g>
<g transform="translate(173.4 67.8) rotate(-35)"><rect x="-11.5" y="-1.8" width="22.9" height="3.6" fill="#fff" stroke="none"/><text y="3" stroke="#fff" stroke-width="1.3" fill="#fff">-0.02</text><text y="3" stroke="#2222d8" stroke-width="0.25">-0.02</text></g>
<g transform="translate(185.4 31.4) rotate(-72)"><rect x="-3.7" y="-1.8" width="7.4" height="3.6" fill="#fff" stroke="none"/><text y="3" stroke="#fff" stroke-width="1.3" fill="#fff">0</text><text y="3" stroke="#2222d8" stroke-width="0.25">0</text></g>
<g transform="translate(188.3 60.3) rotate(-38)"><rect x="-11.5" y="-1.8" width="22.9" height="3.6" fill="#fff" stroke="none"/><text y="3" stroke="#fff" stroke-width="1.3" fill="#fff">-0.05</text><text y="3" stroke="#2222d8" stroke-width="0.25">-0.05</text></g>
<g transform="translate(233.8 47.2) rotate(50)"><rect x="-11.5" y="-1.8" width="22.9" height="3.6" fill="#fff" stroke="none"/><text y="3" stroke="#fff" stroke-width="1.3" fill="#fff">-0.02</text><text y="3" stroke="#2222d8" stroke-width="0.25">-0.02</text></g>
<g transform="translate(262.4 51.0) rotate(-20)"><rect x="-3.7" y="-1.8" width="7.4" height="3.6" fill="#fff" stroke="none"/><text y="3" stroke="#fff" stroke-width="1.3" fill="#fff">0</text><text y="3" stroke="#2222d8" stroke-width="0.25">0</text></g>
<g transform="translate(318.0 23.5) rotate(50)"><rect x="-11.5" y="-1.8" width="22.9" height="3.6" fill="#fff" stroke="none"/><text y="3" stroke="#fff" stroke-width="1.3" fill="#fff">-0.02</text><text y="3" stroke="#2222d8" stroke-width="0.25">-0.02</text></g>
<g transform="translate(311.5 42.7) rotate(15)"><rect x="-11.5" y="-1.8" width="22.9" height="3.6" fill="#fff" stroke="none"/><text y="3" stroke="#fff" stroke-width="1.3" fill="#fff">-0.05</text><text y="3" stroke="#2222d8" stroke-width="0.25">-0.05</text></g>
<g transform="translate(362.4 35.0) rotate(-42)"><rect x="-3.7" y="-1.8" width="7.4" height="3.6" fill="#fff" stroke="none"/><text y="3" stroke="#fff" stroke-width="1.3" fill="#fff">0</text><text y="3" stroke="#2222d8" stroke-width="0.25">0</text></g>
<g transform="translate(331.8 75.1) rotate(5)"><rect x="-9.0" y="-1.8" width="17.9" height="3.6" fill="#fff" stroke="none"/><text y="3" stroke="#fff" stroke-width="1.3" fill="#fff">-0.1</text><text y="3" stroke="#2222d8" stroke-width="0.25">-0.1</text></g>
<g transform="translate(424.0 13.6) rotate(40)"><rect x="-3.7" y="-1.8" width="7.4" height="3.6" fill="#fff" stroke="none"/><text y="3" stroke="#fff" stroke-width="1.3" fill="#fff">0</text><text y="3" stroke="#2222d8" stroke-width="0.25">0</text></g>
<g transform="translate(413.0 21.8) rotate(45)"><rect x="-11.5" y="-1.8" width="22.9" height="3.6" fill="#fff" stroke="none"/><text y="3" stroke="#fff" stroke-width="1.3" fill="#fff">-0.02</text><text y="3" stroke="#2222d8" stroke-width="0.25">-0.02</text></g>
<g transform="translate(116.3 96.3) rotate(-25)"><rect x="-9.0" y="-1.8" width="17.9" height="3.6" fill="#fff" stroke="none"/><text y="3" stroke="#fff" stroke-width="1.3" fill="#fff">-0.1</text><text y="3" stroke="#2222d8" stroke-width="0.25">-0.1</text></g>
<g transform="translate(38.0 146.5) rotate(82)"><rect x="-9.0" y="-1.8" width="17.9" height="3.6" fill="#fff" stroke="none"/><text y="3" stroke="#fff" stroke-width="1.3" fill="#fff">-0.1</text><text y="3" stroke="#2222d8" stroke-width="0.25">-0.1</text></g>
<g transform="translate(54.0 132.0) rotate(85)"><rect x="-11.5" y="-1.8" width="22.9" height="3.6" fill="#fff" stroke="none"/><text y="3" stroke="#fff" stroke-width="1.3" fill="#fff">-0.17</text><text y="3" stroke="#2222d8" stroke-width="0.25">-0.17</text></g>
<g transform="translate(52.0 156.0) rotate(85)"><rect x="-11.5" y="-1.8" width="22.9" height="3.6" fill="#fff" stroke="none"/><text y="3" stroke="#fff" stroke-width="1.3" fill="#fff">-0.15</text><text y="3" stroke="#2222d8" stroke-width="0.25">-0.15</text></g>
<g transform="translate(57.5 104.0) rotate(65)"><rect x="-11.5" y="-1.8" width="22.9" height="3.6" fill="#fff" stroke="none"/><text y="3" stroke="#fff" stroke-width="1.3" fill="#fff">-0.19</text><text y="3" stroke="#2222d8" stroke-width="0.25">-0.19</text></g>
<g transform="translate(58.7 117.0) rotate(75)"><rect x="-11.5" y="-1.8" width="22.9" height="3.6" fill="#fff" stroke="none"/><text y="3" stroke="#fff" stroke-width="1.3" fill="#fff">-0.22</text><text y="3" stroke="#2222d8" stroke-width="0.25">-0.22</text></g>
<g transform="translate(68.0 99.5) rotate(60)"><rect x="-9.0" y="-1.8" width="17.9" height="3.6" fill="#fff" stroke="none"/><text y="3" stroke="#fff" stroke-width="1.3" fill="#fff">-0.1</text><text y="3" stroke="#2222d8" stroke-width="0.25">-0.1</text></g>
<g transform="translate(71.0 108.5) rotate(55)"><rect x="-11.5" y="-1.8" width="22.9" height="3.6" fill="#fff" stroke="none"/><text y="3" stroke="#fff" stroke-width="1.3" fill="#fff">-0.19</text><text y="3" stroke="#2222d8" stroke-width="0.25">-0.19</text></g>
<g transform="translate(70.7 121.0) rotate(70)"><rect x="-11.5" y="-1.8" width="22.9" height="3.6" fill="#fff" stroke="none"/><text y="3" stroke="#fff" stroke-width="1.3" fill="#fff">-0.22</text><text y="3" stroke="#2222d8" stroke-width="0.25">-0.22</text></g>
<g transform="translate(81.3 121.0) rotate(62)"><rect x="-11.5" y="-1.8" width="22.9" height="3.6" fill="#fff" stroke="none"/><text y="3" stroke="#fff" stroke-width="1.3" fill="#fff">-0.15</text><text y="3" stroke="#2222d8" stroke-width="0.25">-0.15</text></g>
<g transform="translate(80.6 144.0) rotate(84)"><rect x="-11.5" y="-1.8" width="22.9" height="3.6" fill="#fff" stroke="none"/><text y="3" stroke="#fff" stroke-width="1.3" fill="#fff">-0.17</text><text y="3" stroke="#2222d8" stroke-width="0.25">-0.17</text></g>
<g transform="translate(70.0 208.0) rotate(72)"><rect x="-11.5" y="-1.8" width="22.9" height="3.6" fill="#fff" stroke="none"/><text y="3" stroke="#fff" stroke-width="1.3" fill="#fff">-0.17</text><text y="3" stroke="#2222d8" stroke-width="0.25">-0.17</text></g>
<g transform="translate(123.0 141.0) rotate(-75)"><rect x="-11.5" y="-1.8" width="22.9" height="3.6" fill="#fff" stroke="none"/><text y="3" stroke="#fff" stroke-width="1.3" fill="#fff">-0.17</text><text y="3" stroke="#2222d8" stroke-width="0.25">-0.17</text></g>
<g transform="translate(120.6 157.5) rotate(-72)"><rect x="-11.5" y="-1.8" width="22.9" height="3.6" fill="#fff" stroke="none"/><text y="3" stroke="#fff" stroke-width="1.3" fill="#fff">-0.18</text><text y="3" stroke="#2222d8" stroke-width="0.25">-0.18</text></g>
<g transform="translate(128.0 156.0) rotate(-78)"><rect x="-9.0" y="-1.8" width="17.9" height="3.6" fill="#fff" stroke="none"/><text y="3" stroke="#fff" stroke-width="1.3" fill="#fff">-0.2</text><text y="3" stroke="#2222d8" stroke-width="0.25">-0.2</text></g>
<g transform="translate(134.4 179.0) rotate(-88)"><rect x="-11.5" y="-1.8" width="22.9" height="3.6" fill="#fff" stroke="none"/><text y="3" stroke="#fff" stroke-width="1.3" fill="#fff">-0.22</text><text y="3" stroke="#2222d8" stroke-width="0.25">-0.22</text></g>
<g transform="translate(137.5 100.0) rotate(-50)"><rect x="-11.5" y="-1.8" width="22.9" height="3.6" fill="#fff" stroke="none"/><text y="3" stroke="#fff" stroke-width="1.3" fill="#fff">-0.15</text><text y="3" stroke="#2222d8" stroke-width="0.25">-0.15</text></g>
<g transform="translate(152.0 100.0) rotate(-50)"><rect x="-11.5" y="-1.8" width="22.9" height="3.6" fill="#fff" stroke="none"/><text y="3" stroke="#fff" stroke-width="1.3" fill="#fff">-0.22</text><text y="3" stroke="#2222d8" stroke-width="0.25">-0.22</text></g>
<g transform="translate(147.6 119.5) rotate(-75)"><rect x="-11.5" y="-1.8" width="22.9" height="3.6" fill="#fff" stroke="none"/><text y="3" stroke="#fff" stroke-width="1.3" fill="#fff">-0.27</text><text y="3" stroke="#2222d8" stroke-width="0.25">-0.27</text></g>
<g transform="translate(143.6 133.5) rotate(-85)"><rect x="-11.5" y="-1.8" width="22.9" height="3.6" fill="#fff" stroke="none"/><text y="3" stroke="#fff" stroke-width="1.3" fill="#fff">-0.25</text><text y="3" stroke="#2222d8" stroke-width="0.25">-0.25</text></g>
<g transform="translate(171.5 121.3) rotate(75)"><rect x="-11.5" y="-1.8" width="22.9" height="3.6" fill="#fff" stroke="none"/><text y="3" stroke="#fff" stroke-width="1.3" fill="#fff">-0.28</text><text y="3" stroke="#2222d8" stroke-width="0.25">-0.28</text></g>
<g transform="translate(168.4 131.0) rotate(80)"><rect x="-9.0" y="-1.8" width="17.9" height="3.6" fill="#fff" stroke="none"/><text y="3" stroke="#fff" stroke-width="1.3" fill="#fff">-0.3</text><text y="3" stroke="#2222d8" stroke-width="0.25">-0.3</text></g>
<g transform="translate(179.0 144.0) rotate(80)"><rect x="-11.5" y="-1.8" width="22.9" height="3.6" fill="#fff" stroke="none"/><text y="3" stroke="#fff" stroke-width="1.3" fill="#fff">-0.25</text><text y="3" stroke="#2222d8" stroke-width="0.25">-0.25</text></g>
<g transform="translate(170.0 169.0) rotate(-65)"><rect x="-11.5" y="-1.8" width="22.9" height="3.6" fill="#fff" stroke="none"/><text y="3" stroke="#fff" stroke-width="1.3" fill="#fff">-0.27</text><text y="3" stroke="#2222d8" stroke-width="0.25">-0.27</text></g>
<g transform="translate(199.8 169.0) rotate(55)"><rect x="-11.5" y="-1.8" width="22.9" height="3.6" fill="#fff" stroke="none"/><text y="3" stroke="#fff" stroke-width="1.3" fill="#fff">-0.22</text><text y="3" stroke="#2222d8" stroke-width="0.25">-0.22</text></g>
<g transform="translate(178.0 100.0) rotate(50)"><rect x="-11.5" y="-1.8" width="22.9" height="3.6" fill="#fff" stroke="none"/><text y="3" stroke="#fff" stroke-width="1.3" fill="#fff">-0.18</text><text y="3" stroke="#2222d8" stroke-width="0.25">-0.18</text></g>
<g transform="translate(192.0 114.4) rotate(45)"><rect x="-11.5" y="-1.8" width="22.9" height="3.6" fill="#fff" stroke="none"/><text y="3" stroke="#fff" stroke-width="1.3" fill="#fff">-0.17</text><text y="3" stroke="#2222d8" stroke-width="0.25">-0.17</text></g>
<g transform="translate(243.0 97.6) rotate(-15)"><rect x="-11.5" y="-1.8" width="22.9" height="3.6" fill="#fff" stroke="none"/><text y="3" stroke="#fff" stroke-width="1.3" fill="#fff">-0.19</text><text y="3" stroke="#2222d8" stroke-width="0.25">-0.19</text></g>
<g transform="translate(260.5 102.0) rotate(5)"><rect x="-11.5" y="-1.8" width="22.9" height="3.6" fill="#fff" stroke="none"/><text y="3" stroke="#fff" stroke-width="1.3" fill="#fff">-0.22</text><text y="3" stroke="#2222d8" stroke-width="0.25">-0.22</text></g>
<g transform="translate(228.2 118.8) rotate(-58)"><rect x="-9.0" y="-1.8" width="17.9" height="3.6" fill="#fff" stroke="none"/><text y="3" stroke="#fff" stroke-width="1.3" fill="#fff">-0.2</text><text y="3" stroke="#2222d8" stroke-width="0.25">-0.2</text></g>
<g transform="translate(281.0 91.5) rotate(25)"><rect x="-11.5" y="-1.8" width="22.9" height="3.6" fill="#fff" stroke="none"/><text y="3" stroke="#fff" stroke-width="1.3" fill="#fff">-0.15</text><text y="3" stroke="#2222d8" stroke-width="0.25">-0.15</text></g>
<g transform="translate(277.3 101.4) rotate(35)"><rect x="-11.5" y="-1.8" width="22.9" height="3.6" fill="#fff" stroke="none"/><text y="3" stroke="#fff" stroke-width="1.3" fill="#fff">-0.18</text><text y="3" stroke="#2222d8" stroke-width="0.25">-0.18</text></g>
<g transform="translate(274.0 131.6) rotate(65)"><rect x="-11.5" y="-1.8" width="22.9" height="3.6" fill="#fff" stroke="none"/><text y="3" stroke="#fff" stroke-width="1.3" fill="#fff">-0.25</text><text y="3" stroke="#2222d8" stroke-width="0.25">-0.25</text></g>
<g transform="translate(260.0 144.0) rotate(-70)"><rect x="-9.0" y="-1.8" width="17.9" height="3.6" fill="#fff" stroke="none"/><text y="3" stroke="#fff" stroke-width="1.3" fill="#fff">-0.3</text><text y="3" stroke="#2222d8" stroke-width="0.25">-0.3</text></g>
<g transform="translate(271.2 151.0) rotate(72)"><rect x="-11.5" y="-1.8" width="22.9" height="3.6" fill="#fff" stroke="none"/><text y="3" stroke="#fff" stroke-width="1.3" fill="#fff">-0.27</text><text y="3" stroke="#2222d8" stroke-width="0.25">-0.27</text></g>
<g transform="translate(232.7 156.6) rotate(-85)"><rect x="-11.5" y="-1.8" width="22.9" height="3.6" fill="#fff" stroke="none"/><text y="3" stroke="#fff" stroke-width="1.3" fill="#fff">-0.25</text><text y="3" stroke="#2222d8" stroke-width="0.25">-0.25</text></g>
<g transform="translate(240.3 158.0) rotate(-82)"><rect x="-11.5" y="-1.8" width="22.9" height="3.6" fill="#fff" stroke="none"/><text y="3" stroke="#fff" stroke-width="1.3" fill="#fff">-0.27</text><text y="3" stroke="#2222d8" stroke-width="0.25">-0.27</text></g>
<g transform="translate(245.0 156.0) rotate(78)"><rect x="-11.5" y="-1.8" width="22.9" height="3.6" fill="#fff" stroke="none"/><text y="3" stroke="#fff" stroke-width="1.3" fill="#fff">-0.28</text><text y="3" stroke="#2222d8" stroke-width="0.25">-0.28</text></g>
<g transform="translate(291.5 211.7) rotate(60)"><rect x="-11.5" y="-1.8" width="22.9" height="3.6" fill="#fff" stroke="none"/><text y="3" stroke="#fff" stroke-width="1.3" fill="#fff">-0.25</text><text y="3" stroke="#2222d8" stroke-width="0.25">-0.25</text></g>
<g transform="translate(312.9 109.8) rotate(-25)"><rect x="-11.5" y="-1.8" width="22.9" height="3.6" fill="#fff" stroke="none"/><text y="3" stroke="#fff" stroke-width="1.3" fill="#fff">-0.17</text><text y="3" stroke="#2222d8" stroke-width="0.25">-0.17</text></g>
<g transform="translate(316.7 125.0) rotate(-42)"><rect x="-9.0" y="-1.8" width="17.9" height="3.6" fill="#fff" stroke="none"/><text y="3" stroke="#fff" stroke-width="1.3" fill="#fff">-0.2</text><text y="3" stroke="#2222d8" stroke-width="0.25">-0.2</text></g>
<g transform="translate(321.3 134.3) rotate(-52)"><rect x="-11.5" y="-1.8" width="22.9" height="3.6" fill="#fff" stroke="none"/><text y="3" stroke="#fff" stroke-width="1.3" fill="#fff">-0.22</text><text y="3" stroke="#2222d8" stroke-width="0.25">-0.22</text></g>
<g transform="translate(329.7 145.0) rotate(-68)"><rect x="-11.5" y="-1.8" width="22.9" height="3.6" fill="#fff" stroke="none"/><text y="3" stroke="#fff" stroke-width="1.3" fill="#fff">-0.25</text><text y="3" stroke="#2222d8" stroke-width="0.25">-0.25</text></g>
<g transform="translate(341.8 144.5) rotate(-85)"><rect x="-11.5" y="-1.8" width="22.9" height="3.6" fill="#fff" stroke="none"/><text y="3" stroke="#fff" stroke-width="1.3" fill="#fff">-0.28</text><text y="3" stroke="#2222d8" stroke-width="0.25">-0.28</text></g>
<g transform="translate(336.0 176.6) rotate(82)"><rect x="-11.5" y="-1.8" width="22.9" height="3.6" fill="#fff" stroke="none"/><text y="3" stroke="#fff" stroke-width="1.3" fill="#fff">-0.27</text><text y="3" stroke="#2222d8" stroke-width="0.25">-0.27</text></g>
<g transform="translate(362.2 101.4) rotate(15)"><rect x="-11.5" y="-1.8" width="22.9" height="3.6" fill="#fff" stroke="none"/><text y="3" stroke="#fff" stroke-width="1.3" fill="#fff">-0.19</text><text y="3" stroke="#2222d8" stroke-width="0.25">-0.19</text></g>
<g transform="translate(364.8 153.5) rotate(78)"><rect x="-11.5" y="-1.8" width="22.9" height="3.6" fill="#fff" stroke="none"/><text y="3" stroke="#fff" stroke-width="1.3" fill="#fff">-0.27</text><text y="3" stroke="#2222d8" stroke-width="0.25">-0.27</text></g>
<g transform="translate(375.9 165.0) rotate(78)"><rect x="-11.5" y="-1.8" width="22.9" height="3.6" fill="#fff" stroke="none"/><text y="3" stroke="#fff" stroke-width="1.3" fill="#fff">-0.25</text><text y="3" stroke="#2222d8" stroke-width="0.25">-0.25</text></g>
<g transform="translate(391.6 118.7) rotate(30)"><rect x="-11.5" y="-1.8" width="22.9" height="3.6" fill="#fff" stroke="none"/><text y="3" stroke="#fff" stroke-width="1.3" fill="#fff">-0.18</text><text y="3" stroke="#2222d8" stroke-width="0.25">-0.18</text></g>
<g transform="translate(392.5 153.5) rotate(40)"><rect x="-11.5" y="-1.8" width="22.9" height="3.6" fill="#fff" stroke="none"/><text y="3" stroke="#fff" stroke-width="1.3" fill="#fff">-0.22</text><text y="3" stroke="#2222d8" stroke-width="0.25">-0.22</text></g>
<g transform="translate(415.9 126.0) rotate(-45)"><rect x="-9.0" y="-1.8" width="17.9" height="3.6" fill="#fff" stroke="none"/><text y="3" stroke="#fff" stroke-width="1.3" fill="#fff">-0.2</text><text y="3" stroke="#2222d8" stroke-width="0.25">-0.2</text></g>
<g transform="translate(418.8 190.3) rotate(-72)"><rect x="-11.5" y="-1.8" width="22.9" height="3.6" fill="#fff" stroke="none"/><text y="3" stroke="#fff" stroke-width="1.3" fill="#fff">-0.25</text><text y="3" stroke="#2222d8" stroke-width="0.25">-0.25</text></g>
</g>
<line x1="126.4" y1="9.4" x2="126.4" y2="227.4" stroke="#fa7a28" stroke-width="1.15" stroke-dasharray="7.2 1.2" stroke-dashoffset="6.4"/>
<line x1="62.7" y1="94.3" x2="62.7" y2="227.4" stroke="#f01010" stroke-width="2.3"/>
<text x="183.6" y="271.4" textLength="103.0" lengthAdjust="spacingAndGlyphs" font-family="Liberation Serif, Times New Roman, serif" font-size="16" fill="#111">(<tspan font-weight="bold">b</tspan>) TVW model</text>
</g>
<g>
<clipPath id="c270"><rect x="36.9" y="279.4" width="411.1" height="218.0"/></clipPath>
<g clip-path="url(#c270)" fill="none" stroke="#303030" stroke-width="0.7">
<path d="M43.6 279.0C43.7 281.9 44.0 290.1 44.3 296.2C44.6 302.3 45.0 310.2 45.4 315.4C45.8 320.6 46.1 323.7 46.6 327.6C47.1 331.5 47.1 335.2 48.3 339.0C49.5 342.8 52.0 347.2 53.6 350.3C55.2 353.4 56.5 355.4 57.9 357.3C59.3 359.2 61.6 361.1 62.3 361.9"/>
<path d="M36.9 320.0C37.2 321.3 37.8 325.3 38.5 328.0C39.2 330.7 40.0 333.4 41.0 336.0C42.0 338.6 43.1 340.7 44.8 343.4C46.5 346.1 48.8 349.5 51.0 352.1C53.2 354.7 56.0 357.3 57.9 359.0C59.8 360.7 61.3 361.9 62.5 362.4C63.7 362.9 63.4 362.9 65.0 362.2C66.6 361.5 69.7 360.2 71.9 358.2C74.1 356.2 76.2 353.4 78.0 350.3C79.8 347.2 81.1 343.7 82.4 339.9C83.7 336.1 84.3 331.5 85.9 327.6C87.5 323.7 90.0 319.6 92.0 316.3C94.0 313.0 96.2 309.8 98.1 307.6C100.0 305.4 101.9 304.2 103.4 303.2C104.9 302.2 105.2 301.5 107.0 301.4C108.8 301.2 111.7 301.3 114.0 302.3C116.3 303.3 118.7 305.3 121.0 307.6C123.3 309.9 125.7 313.1 128.0 316.3C130.3 319.5 132.7 323.5 135.0 326.8C137.3 330.1 139.3 333.9 141.9 336.4C144.5 338.9 147.8 340.4 150.7 341.6C153.6 342.8 156.5 343.4 159.4 343.4C162.3 343.4 165.8 342.6 168.1 341.6C170.4 340.6 171.4 339.2 173.0 337.5C174.6 335.8 176.2 333.6 177.9 331.1C179.6 328.6 181.4 325.6 183.0 322.4C184.6 319.2 185.9 315.4 187.5 312.0C189.1 308.6 190.7 305.1 192.7 302.3C194.7 299.5 197.2 296.8 199.7 295.3C202.2 293.9 205.1 293.5 207.6 293.6C210.1 293.8 212.3 294.6 214.5 296.2C216.7 297.8 218.8 300.6 220.7 303.2C222.6 305.8 224.2 309.1 225.9 312.0C227.6 314.9 229.2 318.2 231.0 320.7C232.8 323.2 234.6 325.4 236.4 326.8C238.2 328.2 239.9 328.5 242.0 329.0C244.1 329.5 246.0 329.7 248.7 329.6C251.4 329.5 255.4 329.3 258.3 328.5C261.2 327.7 263.7 326.8 266.2 325.0C268.7 323.2 271.2 320.6 273.2 318.0C275.2 315.4 276.6 312.4 278.4 309.3C280.1 306.2 281.8 302.8 283.7 299.7C285.6 296.6 287.8 293.1 289.8 291.0C291.8 288.9 293.7 287.9 295.9 287.1C298.1 286.3 300.6 286.0 302.9 286.2C305.2 286.4 307.8 287.1 309.9 288.5C311.9 289.9 313.4 292.2 315.2 294.5C317.0 296.8 318.8 300.1 320.5 302.3C322.2 304.6 323.6 306.1 325.5 308.0C327.4 309.9 328.9 311.7 331.8 313.7C334.8 315.7 339.8 318.6 343.2 319.8C346.6 321.0 349.1 321.0 352.0 320.7C354.9 320.4 357.8 319.4 360.7 318.0C363.6 316.6 366.6 314.5 369.4 312.0C372.1 309.5 374.9 306.1 377.2 303.2C379.5 300.3 381.6 296.9 383.4 294.5C385.2 292.1 386.7 290.5 388.0 289.0C389.3 287.5 389.5 286.4 391.2 285.7C392.9 284.9 395.9 284.2 398.2 284.5C400.5 284.8 402.9 286.0 405.2 287.5C407.5 289.0 410.0 291.4 412.2 293.6C414.4 295.8 416.3 298.4 418.3 300.6C420.3 302.8 422.0 305.1 424.0 307.0C426.0 308.9 427.5 310.7 430.5 312.0C433.5 313.3 439.0 314.4 441.9 315.0C444.8 315.6 447.0 315.7 448.0 315.8"/>
<path d="M62.5 361.9C62.0 360.8 60.5 358.1 59.5 355.0C58.5 351.9 56.8 347.4 56.2 343.4C55.6 339.4 55.6 334.8 55.9 331.1C56.2 327.5 56.5 324.0 57.9 321.5C59.3 319.0 62.2 316.4 64.1 316.3C66.0 316.2 68.0 318.1 69.3 320.7C70.6 323.3 71.7 328.2 72.0 332.0C72.3 335.8 71.5 340.0 71.0 343.4C70.5 346.8 70.2 349.5 69.3 352.1C68.4 354.7 66.8 357.4 65.8 359.0C64.8 360.6 63.6 361.4 63.2 361.9"/>
<path d="M60.6 343.4C60.7 345.3 60.8 347.2 61.4 348.6C62.0 350.0 63.2 351.5 64.1 351.5C65.0 351.5 66.3 350.2 67.0 348.6C67.7 347.0 68.0 343.9 68.1 341.6C68.2 339.3 68.0 336.8 67.5 334.6C67.0 332.4 65.9 329.1 65.0 328.5C64.1 327.9 62.9 329.6 62.2 331.0C61.5 332.4 61.1 334.9 60.8 337.0C60.5 339.1 60.5 341.5 60.6 343.4Z"/>
<path d="M89.4 279.0C89.0 281.3 87.5 288.5 86.8 292.7C86.1 296.9 85.7 299.9 85.0 304.0C84.3 308.1 83.3 312.7 82.4 317.2C81.5 321.7 80.7 326.7 79.8 331.1C78.9 335.5 78.4 339.6 77.2 343.4C76.0 347.2 74.4 351.0 72.8 353.8C71.2 356.6 69.1 358.6 67.6 360.0C66.0 361.4 64.2 362.0 63.5 362.4"/>
<path d="M36.9 360.8C38.1 360.7 41.6 360.2 43.9 360.3C46.1 360.4 48.3 360.9 50.4 361.2C52.5 361.5 54.3 361.9 56.2 362.2C58.1 362.5 60.1 362.8 62.0 362.8C63.9 362.8 65.4 362.8 67.6 362.2C69.8 361.6 72.7 360.5 75.4 359.0C78.2 357.5 81.2 355.3 84.1 353.0C87.0 350.7 90.0 347.7 92.9 345.1C95.8 342.5 99.0 339.2 101.6 337.2C104.2 335.2 106.0 333.8 108.7 332.9C111.4 332.0 114.6 331.6 117.5 332.0C120.4 332.4 123.3 333.9 126.2 335.5C129.1 337.1 132.0 339.9 134.9 341.6C137.8 343.4 140.8 345.0 143.7 346.0C146.6 347.0 149.5 347.4 152.4 347.7C155.3 348.0 158.1 348.1 161.0 347.7C163.9 347.3 167.6 346.4 170.0 345.5C172.4 344.6 173.2 343.4 175.2 342.0C177.2 340.6 179.9 339.1 182.2 337.2C184.5 335.2 186.9 332.6 189.2 330.3C191.5 328.0 193.9 325.1 196.2 323.3C198.5 321.6 200.9 320.5 203.2 319.8C205.5 319.1 207.9 319.0 210.2 319.3C212.5 319.6 214.9 320.2 217.2 321.5C219.5 322.8 221.8 324.9 224.1 326.8C226.4 328.7 228.7 331.2 231.0 332.9C233.3 334.6 235.4 336.3 238.1 337.2C240.8 338.1 244.1 338.4 247.0 338.5C249.9 338.6 252.8 338.2 255.7 337.6C258.6 337.0 261.6 336.1 264.5 334.6C267.4 333.1 270.3 330.8 273.2 328.5C276.1 326.2 279.0 322.9 281.9 320.7C284.8 318.4 287.8 316.3 290.7 315.0C293.6 313.7 296.8 313.1 299.4 312.8C302.0 312.5 304.1 312.7 306.4 313.3C308.7 313.9 310.6 315.1 313.0 316.3C315.4 317.5 317.8 318.9 320.5 320.7C323.2 322.4 326.3 325.1 329.2 326.8C332.1 328.5 335.1 329.9 338.0 330.8C340.9 331.7 343.8 331.9 346.7 332.0C349.6 332.1 352.5 331.8 355.4 331.1C358.3 330.4 361.2 329.1 364.1 327.6C367.0 326.2 370.0 324.2 372.9 322.4C375.8 320.6 379.2 318.2 381.6 316.8C384.0 315.4 385.1 314.6 387.0 313.8C388.9 313.0 390.8 312.3 393.0 312.0C395.2 311.7 397.4 311.4 400.0 312.0C402.6 312.6 405.8 313.8 408.7 315.4C411.6 317.0 414.2 319.6 417.4 321.5C420.6 323.4 424.4 325.4 427.9 326.8C431.4 328.2 435.0 329.3 438.4 330.0C441.8 330.7 446.4 330.7 448.0 330.8"/>
<path d="M121.8 279.0C122.2 280.4 123.3 284.3 124.5 287.5C125.7 290.7 127.5 294.5 128.8 298.0C130.1 301.5 131.1 304.6 132.3 308.4C133.5 312.2 134.4 316.9 135.8 320.7C137.2 324.5 139.1 328.4 141.0 331.1C142.9 333.9 144.7 335.7 147.2 337.2C149.7 338.7 153.0 339.6 155.9 339.9C158.8 340.2 162.0 339.9 164.6 339.0C167.2 338.1 170.0 336.2 171.6 334.6C173.2 333.0 173.1 332.0 174.4 329.4C175.7 326.8 178.0 322.6 179.6 319.0C181.2 315.4 182.7 311.1 184.0 307.6C185.3 304.1 186.3 301.1 187.5 298.0C188.7 294.9 190.0 292.4 191.0 289.2C192.0 286.0 193.2 280.7 193.6 279.0"/>
<path d="M148.0 279.0C147.7 280.7 146.7 284.9 146.3 289.2C145.9 293.5 145.5 300.3 145.8 305.0C146.1 309.7 146.9 313.7 148.0 317.2C149.1 320.7 150.5 323.7 152.4 325.9C154.3 328.1 157.1 330.1 159.4 330.3C161.7 330.5 164.5 329.0 166.4 326.8C168.3 324.6 169.7 321.4 170.7 317.2C171.7 313.0 172.3 306.3 172.5 301.4C172.7 296.4 172.0 291.2 171.6 287.5C171.2 283.8 170.2 280.4 169.9 279.0"/>
<path d="M222.4 279.0C223.0 280.7 224.7 286.0 225.9 289.2C227.1 292.4 227.8 294.9 229.4 298.0C231.0 301.1 233.5 304.4 235.5 307.6C237.5 310.8 239.7 314.9 241.6 317.2C243.5 319.5 245.1 320.6 246.9 321.5C248.7 322.4 250.1 322.8 252.2 322.9C254.2 323.0 256.9 323.1 259.2 322.4C261.5 321.7 264.2 320.6 266.2 318.9C268.2 317.2 269.8 314.9 271.4 312.0C273.0 309.1 274.5 304.9 275.8 301.4C277.1 297.9 278.1 294.2 279.3 291.0C280.5 287.8 282.0 284.2 282.8 282.2C283.6 280.2 283.8 279.5 284.0 279.0"/>
<path d="M322.2 279.0C323.2 281.3 326.1 288.7 328.3 292.7C330.5 296.7 333.0 300.6 335.3 303.2C337.6 305.8 339.8 307.2 342.3 308.4C344.8 309.6 347.7 310.4 350.2 310.5C352.7 310.6 354.9 310.4 357.2 309.3C359.5 308.2 361.9 306.3 364.1 304.0C366.3 301.7 368.6 298.4 370.3 295.3C372.1 292.2 373.6 288.4 374.6 285.7C375.6 283.0 376.1 280.1 376.4 279.0"/>
<path d="M417.0 279.0C417.9 280.1 420.7 283.3 422.7 285.7C424.7 288.1 426.8 291.4 428.8 293.6C430.8 295.8 432.7 297.4 434.9 298.8C437.1 300.2 439.7 301.1 441.9 301.8C444.1 302.5 447.0 302.6 448.0 302.8"/>
<path d="M64.6 364.2C65.9 364.7 69.4 365.9 72.2 367.2C75.0 368.5 78.3 370.5 81.4 371.8C84.5 373.1 87.5 374.5 90.6 374.9C93.7 375.3 97.0 374.7 99.8 374.1C102.6 373.5 104.0 372.7 107.4 371.3C110.9 369.9 116.6 367.4 120.5 365.5C124.4 363.6 127.6 361.5 130.6 360.0C133.5 358.5 135.6 357.2 138.2 356.4C140.8 355.6 142.6 355.4 145.9 355.0C149.2 354.6 154.0 354.6 158.0 354.3C162.0 354.0 165.1 353.4 170.0 353.0C174.9 352.6 181.7 352.2 187.5 351.7C193.3 351.2 199.2 350.6 205.0 350.0C210.8 349.4 216.6 348.6 222.4 348.2C228.2 347.8 235.2 347.4 239.9 347.5C244.6 347.6 247.0 348.8 250.5 349.0C254.0 349.2 257.5 349.0 261.0 348.6C264.5 348.2 267.9 347.1 271.4 346.5C274.9 345.9 277.9 345.3 282.0 344.8C286.1 344.3 291.3 343.8 296.0 343.7C300.7 343.6 306.2 344.2 310.0 344.2C313.8 344.2 315.8 343.8 318.7 343.9C321.6 344.0 323.6 344.6 327.5 345.1C331.4 345.7 337.9 346.8 342.3 347.2C346.7 347.6 350.4 347.8 353.7 347.7C357.0 347.6 359.2 347.0 362.4 346.5C365.6 346.0 369.4 345.3 372.9 344.8C376.4 344.3 379.5 343.7 383.4 343.4C387.3 343.1 392.6 342.9 396.5 343.0C400.4 343.1 403.5 343.7 407.0 344.2C410.5 344.7 413.9 345.4 417.4 346.0C420.9 346.6 424.4 347.1 427.9 347.7C431.4 348.3 435.0 348.9 438.4 349.5C441.8 350.1 446.4 350.9 448.0 351.2"/>
<path d="M60.9 364.5C60.0 365.2 57.5 366.9 55.7 368.5C54.0 370.1 51.9 372.0 50.4 374.3C48.9 376.6 47.7 379.4 46.5 382.2C45.3 385.0 44.2 388.3 43.2 391.4C42.2 394.5 41.4 397.8 40.6 400.6C39.8 403.4 39.2 405.5 38.6 408.4C38.0 411.3 37.3 416.4 37.0 418.0"/>
<path d="M61.6 365.0C60.9 365.8 58.8 368.0 57.5 370.0C56.2 372.0 55.0 374.5 54.0 377.0C53.0 379.5 52.3 382.3 51.8 385.0C51.3 387.7 51.1 390.2 51.0 393.4C50.9 396.6 51.0 400.2 51.0 404.0C51.0 407.8 51.0 410.2 51.3 416.0C51.6 421.8 52.3 431.6 52.8 439.0C53.2 446.4 53.8 454.7 54.0 460.3C54.2 465.9 54.1 468.5 54.3 472.6C54.5 476.7 54.9 480.7 55.1 484.8C55.3 488.9 55.5 495.3 55.6 497.4"/>
<path d="M61.8 366.0C61.3 367.0 59.8 369.5 59.0 372.0C58.2 374.5 57.5 377.7 57.0 381.0C56.5 384.3 56.2 388.0 56.0 392.0C55.8 396.0 55.8 400.5 55.8 405.0C55.8 409.5 55.9 414.9 56.3 419.0C56.7 423.1 57.6 426.0 58.2 429.8C58.8 433.6 59.2 437.9 59.7 442.0C60.2 446.1 60.8 450.9 61.2 454.2C61.6 457.5 61.8 458.6 62.3 461.9C62.8 465.2 63.6 470.2 64.3 474.0C65.0 477.8 65.8 482.0 66.3 484.8C66.8 487.6 67.2 488.9 67.5 491.0C67.8 493.1 68.2 496.3 68.3 497.4"/>
<path d="M58.5 392.0C58.5 394.2 58.3 400.7 58.5 405.0C58.7 409.3 59.1 414.2 59.5 418.0C59.9 421.8 60.5 425.0 61.0 428.0C61.5 431.0 62.3 434.7 62.6 436.0"/>
<path d="M56.8 391.0C57.3 390.8 58.0 393.2 58.3 395.0C58.6 396.8 58.7 400.0 58.6 402.0C58.5 404.0 58.0 406.8 57.5 407.0C57.0 407.2 56.1 404.8 55.8 403.0C55.5 401.2 55.3 398.0 55.5 396.0C55.7 394.0 56.3 391.2 56.8 391.0Z"/>
<path d="M57.0 394.0C57.2 394.3 57.6 396.5 57.6 398.0C57.6 399.5 57.5 402.7 57.3 403.0C57.1 403.3 56.6 401.2 56.5 400.0C56.4 398.8 56.3 397.0 56.4 396.0C56.5 395.0 56.8 393.7 57.0 394.0Z"/>
<path d="M63.7 404.0C64.2 404.7 65.8 408.2 67.0 408.4C68.2 408.6 69.9 406.7 71.0 405.0C72.1 403.3 72.9 400.8 73.5 398.0C74.1 395.2 74.6 391.3 74.5 388.0C74.4 384.7 73.8 380.9 73.0 378.0C72.2 375.1 71.0 372.5 69.5 370.5C68.0 368.5 64.9 366.8 64.0 366.0"/>
<path d="M63.7 412.0C64.3 412.7 66.2 415.8 67.6 416.0C69.0 416.2 70.8 414.8 72.0 413.0C73.2 411.2 74.3 408.5 75.0 405.5C75.7 402.5 75.9 398.6 76.0 395.0C76.1 391.4 76.0 387.3 75.5 384.0C75.0 380.7 74.2 377.6 73.0 375.0C71.8 372.4 69.5 369.8 68.0 368.3C66.5 366.8 64.9 366.2 64.3 365.8"/>
<path d="M62.8 421.4C63.4 422.0 65.2 425.1 66.6 425.2C68.0 425.3 70.0 423.5 71.2 422.0C72.4 420.5 73.1 418.7 74.0 416.0C74.9 413.3 76.0 409.5 76.5 406.0C77.0 402.5 77.2 398.5 77.3 395.0C77.4 391.5 77.4 388.2 77.0 385.0C76.6 381.8 76.0 378.7 74.8 376.0C73.5 373.3 71.2 370.8 69.5 369.0C67.8 367.2 65.3 366.1 64.5 365.5"/>
<path d="M62.8 436.0C63.7 437.2 66.3 441.9 68.0 443.5C69.7 445.1 71.6 445.9 73.0 445.5C74.4 445.1 75.8 442.8 76.5 441.0C77.2 439.2 77.2 437.6 77.5 435.0C77.8 432.4 78.5 428.4 78.6 425.2C78.7 422.0 78.3 419.4 78.3 416.0C78.3 412.6 78.4 408.5 78.5 405.0C78.6 401.5 78.7 398.3 78.7 395.0C78.7 391.7 78.7 388.1 78.3 385.0C77.9 381.9 77.5 379.1 76.3 376.5C75.1 373.9 72.9 371.4 71.0 369.5C69.1 367.6 66.0 365.9 65.0 365.2"/>
<path d="M64.5 364.5C65.3 365.4 67.8 367.5 69.5 370.0C71.2 372.5 72.8 376.1 74.5 379.5C76.2 382.9 78.1 386.6 79.9 390.2C81.7 393.8 83.4 397.9 85.2 401.0C87.0 404.1 88.8 406.5 90.6 408.5C92.4 410.5 93.3 412.4 96.0 413.0C98.7 413.6 103.2 413.8 106.6 412.3C110.0 410.8 113.9 406.9 116.6 404.0C119.3 401.1 121.0 398.0 122.7 394.8C124.4 391.6 125.2 388.4 126.8 385.0C128.3 381.6 130.1 377.5 132.0 374.5C133.9 371.5 136.2 368.8 138.2 366.8C140.2 364.8 142.1 363.6 144.2 362.5C146.3 361.4 147.9 360.9 150.7 360.5C153.5 360.1 157.7 360.0 161.2 360.1C164.7 360.2 168.6 360.6 171.7 361.2C174.8 361.8 177.5 362.9 179.6 363.8C181.7 364.7 182.6 365.3 184.0 366.5C185.4 367.7 186.1 369.4 188.3 371.0C190.6 372.6 194.1 374.8 197.5 376.0C200.9 377.2 206.0 378.5 209.0 378.3C212.0 378.1 213.5 376.4 215.7 374.8C217.9 373.2 220.1 370.8 222.3 369.0C224.5 367.2 226.6 365.3 228.8 363.9C231.0 362.5 233.0 361.4 235.4 360.6C237.8 359.8 240.4 359.6 243.2 359.3C246.0 359.0 249.6 359.0 252.4 358.9C255.2 358.8 257.3 358.8 260.0 358.9C262.7 359.0 265.8 358.8 268.5 359.3C271.2 359.8 273.7 360.8 276.3 362.0C278.9 363.2 281.6 365.2 284.2 366.5C286.8 367.8 289.4 369.1 292.0 369.8C294.6 370.5 297.4 370.8 300.0 370.7C302.6 370.6 305.4 369.7 307.8 369.0C310.2 368.3 312.4 367.2 314.4 366.5C316.3 365.8 317.6 365.2 319.5 364.5C321.4 363.8 323.6 362.8 325.9 362.2C328.2 361.6 330.3 361.0 333.5 360.7C336.7 360.4 340.3 360.4 345.3 360.4C350.3 360.4 358.7 360.1 363.6 360.7C368.6 361.3 371.2 362.5 375.0 363.8C378.8 365.1 383.4 367.2 386.6 368.3C389.8 369.4 392.0 370.1 394.2 370.6C396.4 371.1 398.3 371.4 400.0 371.4C401.7 371.4 402.3 371.2 404.3 370.6C406.3 370.0 409.4 368.8 412.0 368.0C414.6 367.2 416.8 366.4 419.6 366.0C422.4 365.6 424.1 365.3 428.8 365.3C433.5 365.3 444.8 365.9 448.0 366.0"/>
<path d="M65.5 364.6C66.7 365.2 70.5 366.7 72.5 368.5C74.5 370.3 76.3 372.9 77.5 375.5C78.7 378.1 79.2 381.2 79.7 384.0C80.2 386.8 80.2 389.3 80.2 392.0C80.2 394.7 79.8 396.9 79.7 400.0C79.7 403.1 79.6 407.4 79.9 410.8C80.2 414.2 80.5 417.5 81.4 420.7C82.3 423.9 83.7 427.3 85.2 430.0C86.7 432.7 88.6 435.2 90.6 436.8C92.6 438.4 94.9 439.6 97.0 439.5C99.1 439.4 101.5 437.9 103.3 436.5C105.1 435.1 106.3 433.1 108.0 431.0C109.7 428.9 111.8 426.2 113.5 424.0C115.2 421.8 116.7 419.6 118.0 417.5C119.3 415.4 120.4 413.8 121.5 411.5C122.6 409.2 123.6 406.6 124.5 404.0C125.4 401.4 125.9 399.2 127.0 396.0C128.1 392.8 130.1 387.9 131.3 385.0C132.6 382.1 133.3 380.5 134.5 378.5C135.7 376.5 136.9 374.6 138.2 372.9C139.5 371.2 141.0 369.6 142.5 368.3C144.0 367.0 145.8 365.8 147.4 364.9C149.0 364.0 150.4 363.6 152.0 363.2C153.6 362.8 155.0 362.7 157.0 362.6C159.0 362.5 161.5 362.3 164.0 362.6C166.5 362.9 169.7 363.6 172.0 364.5C174.3 365.4 176.2 366.4 178.0 368.0C179.8 369.6 181.5 371.8 183.0 374.0C184.5 376.2 185.7 378.9 187.0 381.0C188.3 383.1 189.0 385.1 190.6 386.7C192.2 388.3 193.9 389.9 196.7 390.6C199.5 391.3 204.7 390.9 207.4 390.8C210.1 390.7 211.3 390.5 213.0 390.0C214.7 389.5 216.1 388.9 217.7 388.0C219.2 387.1 220.7 385.9 222.3 384.3C223.9 382.7 225.8 380.6 227.5 378.5C229.2 376.4 231.1 373.9 232.8 371.9C234.6 369.9 236.3 367.8 238.0 366.5C239.7 365.2 241.2 364.8 243.2 364.2C245.2 363.6 247.3 363.4 249.8 363.2C252.3 363.0 254.9 362.8 258.0 363.0C261.1 363.2 265.8 363.8 268.5 364.5C271.2 365.2 272.2 366.2 274.0 367.5C275.8 368.8 277.3 370.5 279.0 372.0C280.7 373.5 282.2 375.2 284.0 376.5C285.8 377.8 288.1 378.5 290.0 379.5C291.9 380.5 293.6 381.9 295.6 382.5C297.6 383.1 299.8 383.2 302.0 383.0C304.2 382.8 306.6 382.0 308.7 381.2C310.8 380.4 312.5 379.6 314.4 378.3C316.2 377.1 317.9 375.2 319.8 373.7C321.7 372.1 323.0 370.3 325.9 369.0C328.8 367.7 333.6 366.5 337.3 366.0C341.0 365.5 344.4 365.9 348.3 366.0C352.2 366.1 357.0 366.3 360.6 366.8C364.2 367.3 367.0 368.0 369.8 369.0C372.6 370.0 374.9 371.6 377.4 373.0C379.9 374.4 382.4 376.1 385.0 377.5C387.6 378.9 390.0 380.5 392.7 381.4C395.4 382.3 398.8 383.2 401.2 382.9C403.6 382.6 405.0 381.1 407.3 379.8C409.6 378.5 412.4 376.4 415.0 375.2C417.6 374.0 419.8 373.2 422.6 372.6C425.4 372.1 427.6 371.9 431.8 371.9C436.0 371.9 445.3 372.5 448.0 372.6"/>
<path d="M81.9 497.4C82.0 495.5 82.1 489.9 82.6 486.3C83.1 482.7 83.8 478.9 84.9 475.6C86.1 472.3 87.5 469.6 89.5 466.5C91.5 463.4 94.7 459.9 97.2 457.3C99.7 454.8 102.3 454.0 104.6 451.2C106.8 448.4 108.9 443.6 110.7 440.5C112.5 437.4 114.0 434.7 115.3 432.8C116.6 430.9 117.3 430.8 118.3 429.0C119.3 427.2 120.5 424.7 121.4 422.0C122.4 419.3 123.2 416.0 124.0 413.0C124.8 410.0 125.7 406.8 126.5 404.0C127.3 401.2 127.5 399.2 128.6 396.0C129.7 392.8 131.6 387.9 132.8 385.0C134.0 382.1 134.9 380.6 136.0 378.8C137.1 377.0 138.1 375.6 139.3 374.0C140.6 372.4 142.1 370.8 143.5 369.5C144.9 368.2 146.5 367.1 148.0 366.2C149.5 365.3 151.0 364.8 152.5 364.4C154.0 364.0 155.1 363.8 157.0 363.7C158.9 363.6 161.7 363.5 164.0 364.0C166.3 364.5 168.9 365.4 171.0 366.5C173.1 367.6 174.8 368.8 176.5 370.5C178.2 372.2 179.4 374.8 181.0 377.0C182.6 379.2 184.4 381.8 186.0 384.0C187.6 386.2 188.8 388.6 190.6 390.5C192.4 392.4 194.4 394.5 196.7 395.5C199.0 396.5 202.1 396.6 204.3 396.6C206.5 396.6 208.3 396.1 210.0 395.5C211.7 394.9 212.8 394.0 214.4 393.0C216.0 392.0 217.9 391.0 219.7 389.5C221.4 388.0 223.2 386.0 224.9 384.0C226.6 382.0 228.2 379.6 230.0 377.3C231.8 375.0 233.8 372.1 235.4 370.4C237.0 368.7 237.8 367.7 239.3 367.0C240.8 366.3 242.4 366.6 244.6 366.3C246.8 366.0 250.2 365.5 252.4 365.4C254.6 365.3 255.8 365.2 258.0 365.5C260.2 365.8 263.7 366.2 265.9 367.0C268.1 367.8 269.3 368.7 271.0 370.0C272.7 371.3 274.5 373.2 276.3 375.0C278.1 376.8 279.9 378.8 281.6 380.5C283.4 382.2 284.8 383.8 286.8 385.0C288.8 386.2 291.4 387.2 293.4 387.8C295.4 388.4 296.8 388.6 298.8 388.5C300.8 388.4 302.7 388.1 305.4 387.0C308.1 385.9 312.9 383.2 315.0 382.0C317.1 380.8 316.2 381.4 318.0 380.0C319.8 378.6 323.6 375.3 325.9 373.7C328.2 372.1 328.8 371.4 332.0 370.6C335.2 369.8 341.1 369.3 345.3 369.0C349.6 368.7 353.9 368.7 357.5 369.0C361.1 369.3 363.9 370.0 366.7 371.0C369.5 372.0 371.8 373.6 374.3 375.2C376.9 376.8 379.4 378.8 382.0 380.6C384.6 382.4 387.4 384.7 389.6 386.0C391.8 387.3 393.1 387.7 395.0 388.2C396.9 388.7 399.1 389.2 401.2 389.0C403.2 388.8 404.5 388.1 407.3 386.7C410.1 385.3 414.9 382.4 418.0 380.6C421.1 378.8 423.1 377.0 425.7 376.0C428.2 375.0 429.6 374.7 433.3 374.5C437.0 374.3 445.6 374.8 448.0 374.8"/>
<path d="M100.0 497.4C100.4 495.8 101.7 490.9 102.3 487.9C102.9 484.9 103.0 482.8 103.8 479.5C104.6 476.2 105.6 471.9 106.9 468.0C108.2 464.1 109.8 459.6 111.5 455.8C113.2 452.0 115.1 448.6 116.8 445.0C118.5 441.4 120.1 437.6 121.4 434.3C122.7 431.0 123.6 428.4 124.5 425.0C125.4 421.6 126.1 417.5 126.8 414.0C127.5 410.5 128.1 407.0 128.7 404.0C129.3 401.0 129.3 399.2 130.2 396.0C131.1 392.8 133.1 387.8 134.3 385.0C135.5 382.2 136.3 381.0 137.3 379.3C138.3 377.6 139.1 376.4 140.3 375.0C141.5 373.6 142.9 371.9 144.3 370.7C145.7 369.5 147.1 368.5 148.5 367.6C149.9 366.8 151.6 366.1 153.0 365.6C154.4 365.1 155.2 364.9 157.0 364.8C158.8 364.8 161.8 364.7 164.0 365.3C166.2 365.9 168.2 367.1 170.0 368.3C171.8 369.5 173.4 370.7 175.0 372.5C176.6 374.3 178.1 376.8 179.5 379.0C180.9 381.2 182.2 383.8 183.5 386.0C184.8 388.2 186.1 390.5 187.5 392.5C188.9 394.5 189.8 396.3 192.0 398.0C194.2 399.7 197.6 401.5 200.5 402.5C203.4 403.5 206.9 403.9 209.2 403.8C211.5 403.7 212.7 402.9 214.4 402.0C216.2 401.1 217.9 400.0 219.7 398.5C221.4 397.0 223.3 395.0 224.9 393.0C226.5 391.0 228.1 388.7 229.5 386.5C230.9 384.3 232.3 381.8 233.4 379.6C234.5 377.4 234.8 375.3 236.0 373.5C237.2 371.7 238.9 369.9 240.6 369.0C242.2 368.1 243.9 368.3 245.9 368.0C247.9 367.7 250.4 367.4 252.4 367.3C254.4 367.2 255.9 367.1 258.0 367.5C260.1 367.9 263.1 368.6 265.0 369.5C266.9 370.4 267.8 371.4 269.4 373.0C271.0 374.6 273.0 376.6 274.8 378.8C276.6 381.0 278.5 383.8 280.3 386.0C282.1 388.2 283.9 390.3 285.7 391.8C287.5 393.3 289.3 394.3 291.2 395.0C293.1 395.7 294.9 396.0 297.0 396.0C299.1 396.0 300.8 396.0 303.9 395.0C307.0 394.0 312.8 391.8 315.7 390.0C318.6 388.2 319.6 386.1 321.3 384.4C323.0 382.7 324.1 381.6 325.9 379.8C327.7 378.0 329.5 375.2 332.0 373.8C334.5 372.4 337.0 372.0 341.0 371.6C345.0 371.2 352.0 371.0 356.0 371.4C360.0 371.8 362.4 372.5 365.2 373.7C368.0 374.9 370.2 376.5 372.8 378.3C375.4 380.1 378.0 382.4 380.5 384.4C383.0 386.4 385.6 388.9 388.0 390.5C390.4 392.1 392.8 393.6 395.0 394.3C397.2 395.1 399.1 395.2 401.2 395.0C403.2 394.8 405.2 393.8 407.3 392.8C409.4 391.8 411.4 390.3 413.5 389.0C415.6 387.7 416.6 386.7 419.6 385.2C422.7 383.7 428.2 381.1 431.8 379.8C435.4 378.5 438.3 377.9 441.0 377.5C443.7 377.1 446.8 377.2 448.0 377.2"/>
<path d="M109.2 497.4C109.5 495.0 109.9 487.9 110.7 483.3C111.5 478.7 112.7 473.8 113.8 469.5C114.9 465.2 116.5 460.9 117.6 457.3C118.7 453.7 119.4 451.1 120.6 448.0C121.8 444.9 123.5 442.3 124.5 439.0C125.5 435.7 126.1 432.0 126.8 428.2C127.5 424.4 128.2 419.9 128.8 416.0C129.4 412.1 130.0 407.8 130.5 404.5C131.0 401.2 130.9 399.2 131.8 396.0C132.7 392.8 134.7 387.7 135.8 385.0C136.9 382.3 137.6 381.5 138.5 380.0C139.4 378.5 140.3 377.4 141.4 376.1C142.5 374.8 143.9 373.2 145.2 372.0C146.5 370.8 147.8 369.8 149.2 369.0C150.6 368.2 152.1 367.5 153.5 367.0C154.9 366.5 155.8 366.0 157.5 366.0C159.2 366.0 162.1 366.1 164.0 366.8C165.9 367.5 167.4 368.9 169.0 370.2C170.6 371.5 172.1 372.7 173.5 374.5C174.9 376.3 176.2 378.8 177.5 381.0C178.8 383.2 180.1 385.5 181.4 388.0C182.7 390.5 183.8 393.5 185.2 396.0C186.6 398.5 188.1 401.0 189.8 403.0C191.5 405.0 193.0 406.6 195.2 407.8C197.4 409.0 200.7 410.0 202.8 410.4C204.9 410.8 206.3 410.7 208.0 410.4C209.7 410.1 211.1 409.6 213.0 408.5C214.9 407.4 217.7 405.8 219.7 404.0C221.7 402.2 223.3 400.2 224.9 398.0C226.5 395.8 228.2 393.2 229.5 391.0C230.8 388.8 231.7 387.0 232.8 385.0C233.9 383.0 235.0 380.8 236.0 379.0C237.0 377.2 237.8 375.4 239.0 374.0C240.2 372.6 241.5 371.0 243.0 370.3C244.5 369.6 246.2 370.0 247.8 369.8C249.4 369.6 250.7 369.2 252.4 369.2C254.1 369.1 255.9 369.1 258.0 369.5C260.1 369.9 263.1 370.5 265.0 371.5C266.9 372.5 267.8 373.7 269.4 375.5C271.0 377.3 273.0 380.0 274.8 382.5C276.6 385.0 278.5 388.1 280.3 390.5C282.1 392.9 283.7 395.3 285.7 397.0C287.7 398.7 289.6 400.0 292.3 400.7C295.0 401.4 299.3 401.3 302.0 401.0C304.7 400.7 306.5 400.1 308.7 399.0C310.9 397.9 313.4 396.0 315.0 394.5C316.6 393.0 316.4 392.0 318.0 390.2C319.6 388.4 321.7 385.9 324.3 383.7C326.9 381.5 330.7 378.3 333.5 376.8C336.3 375.3 337.2 375.0 341.0 374.5C344.8 374.0 352.1 373.3 356.0 373.7C359.9 374.1 361.7 375.3 364.4 376.8C367.1 378.3 369.6 380.6 372.0 382.9C374.4 385.2 376.7 388.1 379.0 390.5C381.3 392.9 383.5 395.5 385.8 397.4C388.1 399.3 390.1 401.1 392.7 402.0C395.3 402.9 398.8 403.1 401.2 402.8C403.6 402.6 405.2 401.8 407.3 400.5C409.4 399.2 411.4 396.9 413.5 395.0C415.6 393.1 417.6 390.8 419.6 389.0C421.6 387.2 423.4 385.7 425.7 384.4C428.0 383.1 430.8 382.2 433.3 381.4C435.9 380.6 438.6 380.1 441.0 379.8C443.4 379.5 446.8 379.4 448.0 379.3"/>
<path d="M124.5 497.4C124.5 495.4 124.4 489.5 124.5 485.6C124.6 481.7 124.7 478.5 125.2 474.0C125.7 469.5 126.7 463.9 127.5 458.8C128.3 453.7 129.1 448.3 129.8 443.5C130.6 438.7 131.2 434.4 132.0 429.8C132.8 425.2 133.6 419.6 134.4 416.0C135.2 412.4 135.9 410.8 136.7 408.0C137.5 405.2 138.2 402.0 139.0 399.0C139.8 396.0 140.5 392.8 141.5 390.0C142.5 387.2 143.6 384.8 145.0 382.5C146.4 380.2 148.3 377.8 150.0 376.0C151.7 374.2 153.4 372.5 155.0 371.5C156.6 370.5 158.0 370.0 159.5 369.8C161.0 369.6 162.5 369.8 164.0 370.3C165.5 370.8 167.1 371.8 168.5 373.0C169.9 374.2 171.2 375.7 172.5 377.5C173.8 379.3 174.8 381.6 176.0 384.0C177.2 386.4 178.7 389.2 180.0 392.0C181.3 394.8 182.8 398.5 184.0 401.0C185.2 403.5 186.0 404.8 187.0 407.0C188.0 409.2 188.4 411.6 189.8 414.2C191.2 416.8 193.3 420.4 195.2 422.6C197.1 424.8 199.0 426.5 201.3 427.5C203.6 428.5 206.4 428.8 209.0 428.5C211.6 428.2 214.1 427.2 216.6 425.5C219.1 423.8 222.0 420.6 224.2 418.0C226.4 415.4 228.3 413.0 230.0 410.0C231.7 407.0 233.2 403.3 234.5 400.0C235.8 396.7 236.8 393.1 238.0 390.0C239.2 386.9 240.3 383.8 241.5 381.5C242.7 379.2 243.8 377.8 245.0 376.5C246.2 375.2 247.5 374.1 249.0 373.5C250.5 372.9 252.5 372.9 254.0 372.8C255.5 372.7 256.3 372.6 258.0 372.8C259.7 373.0 262.2 373.2 264.0 374.0C265.8 374.8 267.1 376.1 268.5 377.5C269.9 378.9 271.2 380.4 272.6 382.5C274.0 384.6 275.5 387.4 277.0 390.0C278.5 392.6 280.1 395.5 281.4 398.0C282.7 400.5 283.8 402.9 285.0 405.0C286.2 407.1 287.1 408.9 288.5 410.5C289.9 412.1 291.3 413.8 293.4 414.8C295.5 415.8 298.4 416.6 301.0 416.4C303.6 416.2 306.4 415.1 308.7 413.7C311.0 412.3 313.2 410.4 315.0 408.2C316.8 406.0 317.9 402.9 319.5 400.5C321.1 398.1 322.5 396.3 324.3 394.0C326.1 391.7 328.4 388.8 330.5 386.7C332.6 384.6 333.9 382.8 336.6 381.4C339.3 380.0 343.6 378.6 346.8 378.3C350.0 378.0 353.2 378.8 356.0 379.8C358.8 380.8 361.2 382.4 363.6 384.4C366.0 386.4 368.3 389.2 370.5 392.0C372.7 394.8 374.6 398.3 376.6 401.2C378.7 404.1 380.6 407.2 382.8 409.6C385.0 412.0 387.5 414.3 389.6 415.7C391.8 417.1 393.8 417.7 395.7 418.0C397.6 418.3 399.4 417.9 401.2 417.3C403.0 416.7 404.7 415.7 406.6 414.2C408.5 412.7 410.5 410.4 412.5 408.5C414.5 406.6 416.8 404.8 418.8 402.8C420.8 400.8 422.6 398.4 424.5 396.5C426.4 394.6 428.1 392.6 430.3 391.3C432.6 390.1 435.1 389.5 438.0 389.0C440.9 388.5 446.3 388.6 448.0 388.5"/>
<path d="M140.0 497.4C140.1 491.5 140.3 472.9 140.5 461.9C140.7 450.9 141.1 437.7 141.3 431.3C141.5 424.9 141.3 426.8 141.5 423.6C141.7 420.4 142.1 415.3 142.5 412.0C142.9 408.7 143.4 407.2 143.8 404.0C144.2 400.8 144.2 396.3 144.8 393.0C145.4 389.7 146.1 386.6 147.2 384.0C148.3 381.4 149.9 379.1 151.5 377.5C153.1 375.9 155.2 374.8 157.0 374.3C158.8 373.8 160.8 373.9 162.5 374.3C164.2 374.8 166.0 375.7 167.5 377.0C169.0 378.3 170.3 380.2 171.5 382.0C172.7 383.8 173.6 386.0 174.5 388.0C175.4 390.0 176.2 392.2 176.8 394.0C177.4 395.8 177.7 396.1 178.3 399.0C178.9 401.9 179.9 406.3 180.6 411.2C181.2 416.1 181.4 422.8 182.2 428.2C183.0 433.6 184.1 438.4 185.2 443.5C186.3 448.6 187.7 454.5 189.0 458.8C190.3 463.1 191.6 466.8 192.9 469.5C194.2 472.2 195.3 473.9 197.0 475.0C198.7 476.1 201.0 477.0 202.8 476.3C204.6 475.6 206.3 473.1 208.0 471.0C209.7 468.9 210.7 466.7 212.7 463.4C214.7 460.1 218.0 455.3 220.0 451.2C222.0 447.1 223.2 443.3 224.6 439.0C226.0 434.7 227.4 429.0 228.4 425.2C229.4 421.4 229.9 418.9 230.7 416.0C231.5 413.1 232.0 411.1 233.0 408.0C234.0 404.9 235.2 400.6 236.5 397.4C237.8 394.1 239.1 391.1 240.5 388.5C241.9 385.9 243.3 383.2 245.0 381.5C246.7 379.8 248.7 378.8 250.5 378.0C252.3 377.2 254.1 376.9 256.0 376.8C257.9 376.7 260.2 376.9 262.0 377.5C263.8 378.1 265.4 379.0 267.0 380.5C268.6 382.0 270.1 384.2 271.5 386.5C272.9 388.8 274.3 391.6 275.5 394.5C276.7 397.4 277.6 400.7 278.5 404.0C279.4 407.3 280.2 411.0 281.0 414.2C281.8 417.4 282.4 420.4 283.0 423.0C283.6 425.6 283.9 427.7 284.5 430.0C285.1 432.3 285.7 434.8 286.5 437.0C287.3 439.2 288.4 441.4 289.5 443.0C290.6 444.6 291.5 445.7 293.0 446.5C294.5 447.3 296.4 447.9 298.3 448.0C300.2 448.1 302.4 448.3 304.5 447.3C306.6 446.3 308.6 444.4 310.6 442.0C312.6 439.6 315.1 435.9 316.7 432.8C318.3 429.7 319.4 426.8 320.5 423.4C321.6 420.0 322.6 416.0 323.6 412.7C324.6 409.4 325.5 406.3 326.6 403.5C327.8 400.7 328.9 398.5 330.5 395.9C332.1 393.3 333.8 389.8 336.0 388.0C338.2 386.2 340.9 385.0 343.8 385.2C346.8 385.4 350.5 387.5 353.7 389.0C356.9 390.5 360.5 392.1 362.9 394.3C365.3 396.5 366.5 399.2 368.2 402.0C369.9 404.8 371.5 407.9 372.8 411.2C374.1 414.5 374.9 418.4 375.9 421.9C376.9 425.4 378.0 429.4 379.0 432.0C380.0 434.6 380.5 435.1 382.0 437.4C383.5 439.7 386.0 443.8 388.0 445.8C390.0 447.8 392.2 448.8 394.2 449.6C396.1 450.5 397.9 451.0 399.7 450.9C401.5 450.8 403.3 450.0 405.0 448.9C406.7 447.8 408.5 446.1 410.0 444.5C411.5 442.9 412.6 442.0 414.2 439.0C415.8 436.0 418.3 429.6 419.6 426.7C420.9 423.8 420.8 424.2 421.9 421.9C423.0 419.6 424.7 415.4 426.5 412.7C428.3 410.0 430.4 407.6 432.6 405.8C434.8 404.0 436.9 402.8 439.5 402.0C442.1 401.2 446.6 401.3 448.0 401.2"/>
<path d="M149.3 436.0C148.8 431.9 148.5 428.5 148.2 424.0C147.9 419.5 147.4 413.8 147.4 409.0C147.4 404.2 147.6 399.1 148.0 395.3C148.4 391.5 149.0 388.6 150.0 386.0C151.0 383.4 152.5 381.2 154.0 379.8C155.5 378.4 157.5 377.7 159.2 377.3C160.9 376.9 162.4 377.0 164.0 377.5C165.6 378.0 167.2 378.9 168.5 380.5C169.8 382.1 171.1 384.4 172.0 387.0C172.9 389.6 173.5 392.7 174.0 396.0C174.5 399.3 174.8 403.2 175.0 407.0C175.2 410.8 175.3 414.9 175.4 419.0C175.5 423.1 175.6 427.2 175.3 431.3C175.0 435.4 174.4 439.6 173.8 443.5C173.2 447.4 172.6 451.4 171.5 455.0C170.4 458.6 168.6 462.8 167.0 465.0C165.4 467.2 163.6 468.0 162.0 468.0C160.4 468.0 158.7 466.4 157.3 464.9C155.9 463.4 154.5 461.5 153.5 458.8C152.5 456.1 151.9 452.7 151.2 448.9C150.5 445.1 149.8 440.1 149.3 436.0Z"/>
<path d="M151.2 435.9C151.9 438.9 152.9 440.2 154.3 442.0C155.7 443.8 157.7 445.8 159.6 446.6C161.5 447.4 164.2 448.1 165.7 446.6C167.2 445.1 167.8 440.7 168.8 437.4C169.8 434.1 170.9 430.6 171.5 426.7C172.1 422.8 172.5 418.3 172.6 414.0C172.7 409.7 172.7 404.8 172.3 401.0C172.0 397.2 171.4 394.3 170.5 391.5C169.6 388.7 168.4 385.9 167.0 384.0C165.6 382.1 163.6 380.6 162.0 380.0C160.4 379.4 158.9 379.5 157.5 380.2C156.1 380.9 154.9 382.2 153.8 384.0C152.7 385.8 151.7 388.5 151.0 391.0C150.3 393.5 149.9 395.7 149.6 399.0C149.3 402.3 149.2 406.8 149.2 411.0C149.2 415.2 149.5 419.9 149.8 424.0C150.1 428.1 150.4 432.9 151.2 435.9Z"/>
<path d="M151.6 403.0C151.3 399.5 151.6 395.8 152.2 393.0C152.8 390.2 153.6 387.8 155.0 386.0C156.4 384.2 158.8 382.5 160.5 382.3C162.2 382.1 164.1 383.4 165.5 385.0C166.9 386.6 168.2 389.2 169.0 392.0C169.8 394.8 170.4 398.3 170.6 402.0C170.8 405.7 170.6 410.7 170.0 414.0C169.4 417.3 168.2 420.1 167.0 422.0C165.8 423.9 164.5 425.3 163.0 425.3C161.5 425.3 159.5 423.9 158.0 422.0C156.5 420.1 154.9 417.2 153.8 414.0C152.7 410.8 151.9 406.5 151.6 403.0Z"/>
<path d="M222.3 497.4C222.9 494.8 224.7 486.8 226.0 481.7C227.3 476.6 228.8 471.6 230.0 466.5C231.2 461.4 232.1 456.1 233.0 451.2C233.9 446.3 234.5 442.3 235.3 437.4C236.1 432.5 236.7 426.6 237.6 421.9C238.5 417.2 239.7 412.8 240.5 409.0C241.3 405.2 241.7 402.1 242.5 399.0C243.3 395.9 244.2 393.0 245.5 390.5C246.8 388.0 248.4 385.5 250.0 384.0C251.6 382.5 253.0 381.6 255.3 381.5C257.6 381.4 261.8 382.2 264.0 383.5C266.2 384.8 267.3 387.1 268.5 389.5C269.7 391.9 270.3 394.9 271.0 397.8C271.7 400.7 272.0 403.7 272.5 406.6C273.0 409.5 273.4 412.4 273.8 415.3C274.2 418.2 274.5 421.1 274.8 424.0C275.1 426.9 275.4 429.0 275.8 432.8C276.2 436.6 276.7 441.8 277.3 446.6C277.9 451.5 278.7 457.3 279.6 461.9C280.5 466.5 281.5 470.4 282.7 474.0C283.9 477.6 285.2 481.1 286.9 483.3C288.6 485.5 290.8 486.6 293.0 487.0C295.2 487.4 297.7 486.5 299.9 485.6C302.1 484.7 303.6 483.4 306.0 481.7C308.4 480.0 312.0 478.1 314.4 475.6C316.8 473.1 318.9 469.8 320.5 466.5C322.1 463.2 323.2 459.6 324.3 455.8C325.4 452.0 326.5 447.6 327.4 443.5C328.3 439.4 329.1 435.1 329.7 431.3C330.3 427.5 330.6 423.5 331.2 420.6C331.8 417.8 332.0 417.0 333.0 414.2C334.0 411.4 335.7 406.8 337.3 404.0C338.9 401.2 340.6 399.1 342.7 397.6C344.8 396.1 347.7 395.0 349.9 395.0C352.1 395.0 354.1 396.0 356.0 397.4C357.9 398.8 359.8 400.9 361.3 403.5C362.8 406.1 364.1 409.4 365.2 412.7C366.3 416.0 367.4 419.8 368.2 423.4C369.0 426.9 369.2 430.4 369.8 434.0C370.4 437.6 371.2 441.4 372.0 445.0C372.8 448.6 373.1 452.0 374.3 455.8C375.5 459.6 377.2 463.9 379.0 468.0C380.8 472.1 383.0 476.9 385.0 480.2C387.0 483.4 389.1 485.4 391.2 487.5C393.2 489.6 395.3 491.4 397.3 493.0C399.3 494.6 402.4 496.7 403.4 497.4"/>
<path d="M241.4 497.4C241.3 494.0 240.8 483.6 240.6 477.2C240.3 470.8 240.1 464.7 239.9 458.8C239.7 452.9 239.6 446.3 239.6 442.0C239.6 437.7 239.8 436.5 240.0 432.8C240.2 429.1 240.5 424.0 240.7 420.0C240.9 416.0 240.8 412.6 241.3 409.0C241.8 405.4 242.4 401.6 243.5 398.5C244.6 395.4 246.0 392.4 248.0 390.5C250.0 388.6 252.8 387.4 255.3 387.3C257.8 387.2 260.9 388.1 262.9 389.9C264.9 391.6 266.2 395.0 267.3 397.8C268.4 400.6 269.1 403.5 269.5 406.6C269.9 409.7 269.6 413.3 269.8 416.4C270.1 419.5 270.6 422.3 271.0 425.0C271.4 427.7 272.0 429.2 272.0 432.8C272.0 436.4 271.7 441.8 271.2 446.6C270.7 451.5 269.9 456.8 269.0 461.9C268.1 467.0 267.2 472.6 265.9 477.2C264.6 481.8 262.6 486.0 261.3 489.4C260.0 492.8 258.6 496.1 258.0 497.4"/>
<path d="M250.2 399.5C248.9 401.7 248.3 405.4 247.8 408.8C247.3 412.2 247.2 416.3 247.2 419.7C247.2 423.1 247.4 426.3 248.0 429.0C248.6 431.7 249.8 434.2 251.0 436.0C252.2 437.8 253.6 439.8 255.0 440.0C256.4 440.2 258.2 438.7 259.5 437.0C260.8 435.3 261.8 433.0 262.5 430.0C263.2 427.0 263.4 422.7 263.5 419.0C263.6 415.3 263.4 410.9 262.9 407.7C262.4 404.4 262.0 401.5 260.7 399.5C259.4 397.5 257.1 395.8 255.3 395.8C253.6 395.8 251.4 397.3 250.2 399.5Z"/>
<path d="M331.3 497.4C331.4 495.0 331.8 488.4 332.0 483.3C332.2 478.2 332.5 472.6 332.8 466.5C333.1 460.4 333.5 453.0 333.8 446.6C334.1 440.2 334.3 432.6 334.7 428.2C335.1 423.8 335.6 422.2 336.0 420.0C336.4 417.8 336.8 417.0 337.3 415.0C337.8 413.0 338.1 410.0 339.2 408.0C340.3 406.0 342.2 403.9 343.8 402.8C345.4 401.7 347.2 401.1 349.0 401.2C350.8 401.3 352.8 401.8 354.5 403.5C356.2 405.2 357.8 408.1 359.0 411.2C360.2 414.3 361.2 418.1 362.0 421.9C362.8 425.7 363.1 430.1 363.6 434.0C364.1 437.9 364.6 440.7 365.0 445.0C365.4 449.3 365.7 454.8 366.0 459.6C366.3 464.4 366.6 469.6 366.7 474.0C366.8 478.4 366.6 482.4 366.4 486.3C366.2 490.2 365.6 495.5 365.5 497.4"/>
<path d="M420.3 497.4C420.5 494.8 420.9 486.6 421.4 481.7C421.9 476.8 422.8 471.6 423.4 468.0C424.0 464.4 424.5 463.0 425.0 460.3C425.5 457.6 425.8 455.3 426.5 452.0C427.2 448.7 428.1 444.2 429.0 440.5C429.9 436.8 430.7 433.1 431.8 429.8C432.9 426.5 434.1 422.8 435.6 420.6C437.1 418.4 438.9 417.4 441.0 416.5C443.1 415.6 446.8 415.2 448.0 415.0"/>
<path d="M448.0 429.2C447.2 429.3 444.7 428.9 443.3 429.8C441.9 430.7 440.4 432.3 439.5 434.3C438.6 436.3 437.9 438.4 437.6 442.0C437.4 445.6 437.3 451.7 438.0 455.8C438.7 459.9 440.1 464.5 441.8 466.5C443.5 468.5 447.0 467.8 448.0 468.0"/>
</g>
<g stroke="#222" stroke-width="0.7">
<line x1="36.6" y1="497.4" x2="36.6" y2="494.9"/>
<line x1="49.4" y1="497.4" x2="49.4" y2="494.9"/>
<line x1="62.3" y1="497.4" x2="62.3" y2="492.9"/>
<line x1="75.2" y1="497.4" x2="75.2" y2="494.9"/>
<line x1="88.0" y1="497.4" x2="88.0" y2="494.9"/>
<line x1="100.9" y1="497.4" x2="100.9" y2="494.9"/>
<line x1="113.7" y1="497.4" x2="113.7" y2="494.9"/>
<line x1="126.6" y1="497.4" x2="126.6" y2="492.9"/>
<line x1="139.5" y1="497.4" x2="139.5" y2="494.9"/>
<line x1="152.3" y1="497.4" x2="152.3" y2="494.9"/>
<line x1="165.2" y1="497.4" x2="165.2" y2="494.9"/>
<line x1="178.0" y1="497.4" x2="178.0" y2="494.9"/>
<line x1="190.9" y1="497.4" x2="190.9" y2="492.9"/>
<line x1="203.8" y1="497.4" x2="203.8" y2="494.9"/>
<line x1="216.6" y1="497.4" x2="216.6" y2="494.9"/>
<line x1="229.5" y1="497.4" x2="229.5" y2="494.9"/>
<line x1="242.3" y1="497.4" x2="242.3" y2="494.9"/>
<line x1="255.2" y1="497.4" x2="255.2" y2="492.9"/>
<line x1="268.1" y1="497.4" x2="268.1" y2="494.9"/>
<line x1="280.9" y1="497.4" x2="280.9" y2="494.9"/>
<line x1="293.8" y1="497.4" x2="293.8" y2="494.9"/>
<line x1="306.6" y1="497.4" x2="306.6" y2="494.9"/>
<line x1="319.5" y1="497.4" x2="319.5" y2="492.9"/>
<line x1="332.4" y1="497.4" x2="332.4" y2="494.9"/>
<line x1="345.2" y1="497.4" x2="345.2" y2="494.9"/>
<line x1="358.1" y1="497.4" x2="358.1" y2="494.9"/>
<line x1="370.9" y1="497.4" x2="370.9" y2="494.9"/>
<line x1="383.8" y1="497.4" x2="383.8" y2="492.9"/>
<line x1="396.7" y1="497.4" x2="396.7" y2="494.9"/>
<line x1="409.5" y1="497.4" x2="409.5" y2="494.9"/>
<line x1="422.4" y1="497.4" x2="422.4" y2="494.9"/>
<line x1="435.2" y1="497.4" x2="435.2" y2="494.9"/>
<line x1="448.1" y1="497.4" x2="448.1" y2="492.9"/>
<line x1="36.9" y1="497.7" x2="41.4" y2="497.7"/>
<line x1="36.9" y1="484.3" x2="39.4" y2="484.3"/>
<line x1="36.9" y1="470.9" x2="39.4" y2="470.9"/>
<line x1="36.9" y1="457.5" x2="39.4" y2="457.5"/>
<line x1="36.9" y1="444.1" x2="39.4" y2="444.1"/>
<line x1="36.9" y1="430.7" x2="41.4" y2="430.7"/>
<line x1="36.9" y1="417.3" x2="39.4" y2="417.3"/>
<line x1="36.9" y1="403.9" x2="39.4" y2="403.9"/>
<line x1="36.9" y1="390.5" x2="39.4" y2="390.5"/>
<line x1="36.9" y1="377.1" x2="39.4" y2="377.1"/>
<line x1="36.9" y1="363.7" x2="41.4" y2="363.7"/>
<line x1="36.9" y1="350.3" x2="39.4" y2="350.3"/>
<line x1="36.9" y1="336.9" x2="39.4" y2="336.9"/>
<line x1="36.9" y1="323.5" x2="39.4" y2="323.5"/>
<line x1="36.9" y1="310.1" x2="39.4" y2="310.1"/>
<line x1="36.9" y1="296.7" x2="41.4" y2="296.7"/>
<line x1="36.9" y1="283.3" x2="39.4" y2="283.3"/>
</g>
<rect x="36.9" y="279.4" width="411.1" height="218.0" fill="none" stroke="#111" stroke-width="1.15"/>
<g font-family="Liberation Sans, Arial, sans-serif" font-size="10.3" fill="#1a1a1a">
<text x="62.3" y="506.9" text-anchor="middle">0</text>
<text x="126.6" y="506.9" text-anchor="middle">0.5</text>
<text x="190.9" y="506.9" text-anchor="middle">1</text>
<text x="256.4" y="506.3" text-anchor="middle">1.5</text>
<text x="319.5" y="506.9" text-anchor="middle">2</text>
<text x="383.8" y="506.9" text-anchor="middle">2.5</text>
<text x="448.1" y="506.9" text-anchor="middle">3</text>
<text x="32.2" y="501.4" text-anchor="end">0.6</text>
<text x="32.2" y="434.4" text-anchor="end">0.8</text>
<text x="32.2" y="367.4" text-anchor="end">1</text>
<text x="32.2" y="300.4" text-anchor="end">1.2</text>
</g>
<text x="242.4" y="515.4" text-anchor="middle" font-family="Liberation Sans, Arial, sans-serif" font-weight="bold" font-size="12.3" fill="#111">Z/R</text>
<text transform="translate(18.8 388.8) rotate(-90)" text-anchor="middle" font-family="Liberation Sans, Arial, sans-serif" font-weight="bold" font-size="11.6" fill="#111">X/R</text>
<g clip-path="url(#c270)" font-family="Liberation Sans, Arial, sans-serif" font-size="9.0" fill="#2222d8" text-anchor="middle">
<g transform="translate(48.3 339.0) rotate(65)"><rect x="-10.0" y="-1.8" width="19.9" height="3.6" fill="#fff" stroke="none"/><text y="3" stroke="#fff" stroke-width="1.3" fill="#fff">0.00</text><text y="3" stroke="#2222d8" stroke-width="0.25">0.00</text></g>
<g transform="translate(39.6 332.9) rotate(70)"><rect x="-11.5" y="-1.8" width="22.9" height="3.6" fill="#fff" stroke="none"/><text y="3" stroke="#fff" stroke-width="1.3" fill="#fff">-0.02</text><text y="3" stroke="#2222d8" stroke-width="0.25">-0.02</text></g>
<g transform="translate(72.2 334.0) rotate(100)"><rect x="-10.0" y="-1.8" width="19.9" height="3.6" fill="#fff" stroke="none"/><text y="3" stroke="#fff" stroke-width="1.3" fill="#fff">0.05</text><text y="3" stroke="#2222d8" stroke-width="0.25">0.05</text></g>
<g transform="translate(61.6 337.0) rotate(-60)"><rect x="-10.0" y="-1.8" width="19.9" height="3.6" fill="#fff" stroke="none"/><text y="3" stroke="#fff" stroke-width="1.3" fill="#fff">0.10</text><text y="3" stroke="#2222d8" stroke-width="0.25">0.10</text></g>
<g transform="translate(85.0 304.0) rotate(-75)"><rect x="-10.0" y="-1.8" width="19.9" height="3.6" fill="#fff" stroke="none"/><text y="3" stroke="#fff" stroke-width="1.3" fill="#fff">0.00</text><text y="3" stroke="#2222d8" stroke-width="0.25">0.00</text></g>
<g transform="translate(92.0 316.3) rotate(-55)"><rect x="-11.5" y="-1.8" width="22.9" height="3.6" fill="#fff" stroke="none"/><text y="3" stroke="#fff" stroke-width="1.3" fill="#fff">-0.02</text><text y="3" stroke="#2222d8" stroke-width="0.25">-0.02</text></g>
<g transform="translate(60.3 362.1) rotate(0)"><rect x="-11.5" y="-1.8" width="22.9" height="3.6" fill="#fff" stroke="none"/><text y="3" stroke="#fff" stroke-width="1.3" fill="#fff">-0.05</text><text y="3" stroke="#2222d8" stroke-width="0.25">-0.05</text></g>
<g transform="translate(128.8 298.0) rotate(65)"><rect x="-10.0" y="-1.8" width="19.9" height="3.6" fill="#fff" stroke="none"/><text y="3" stroke="#fff" stroke-width="1.3" fill="#fff">0.00</text><text y="3" stroke="#2222d8" stroke-width="0.25">0.00</text></g>
<g transform="translate(145.8 305.0) rotate(85)"><rect x="-10.0" y="-1.8" width="19.9" height="3.6" fill="#fff" stroke="none"/><text y="3" stroke="#fff" stroke-width="1.3" fill="#fff">0.05</text><text y="3" stroke="#2222d8" stroke-width="0.25">0.05</text></g>
<g transform="translate(177.9 331.1) rotate(-50)"><rect x="-11.5" y="-1.8" width="22.9" height="3.6" fill="#fff" stroke="none"/><text y="3" stroke="#fff" stroke-width="1.3" fill="#fff">-0.02</text><text y="3" stroke="#2222d8" stroke-width="0.25">-0.02</text></g>
<g transform="translate(184.0 307.6) rotate(-65)"><rect x="-10.0" y="-1.8" width="19.9" height="3.6" fill="#fff" stroke="none"/><text y="3" stroke="#fff" stroke-width="1.3" fill="#fff">0.00</text><text y="3" stroke="#2222d8" stroke-width="0.25">0.00</text></g>
<g transform="translate(189.2 330.3) rotate(-35)"><rect x="-11.5" y="-1.8" width="22.9" height="3.6" fill="#fff" stroke="none"/><text y="3" stroke="#fff" stroke-width="1.3" fill="#fff">-0.05</text><text y="3" stroke="#2222d8" stroke-width="0.25">-0.05</text></g>
<g transform="translate(235.5 307.6) rotate(55)"><rect x="-10.0" y="-1.8" width="19.9" height="3.6" fill="#fff" stroke="none"/><text y="3" stroke="#fff" stroke-width="1.3" fill="#fff">0.00</text><text y="3" stroke="#2222d8" stroke-width="0.25">0.00</text></g>
<g transform="translate(248.7 329.4) rotate(5)"><rect x="-11.5" y="-1.8" width="22.9" height="3.6" fill="#fff" stroke="none"/><text y="3" stroke="#fff" stroke-width="1.3" fill="#fff">-0.02</text><text y="3" stroke="#2222d8" stroke-width="0.25">-0.02</text></g>
<g transform="translate(328.3 292.7) rotate(55)"><rect x="-10.0" y="-1.8" width="19.9" height="3.6" fill="#fff" stroke="none"/><text y="3" stroke="#fff" stroke-width="1.3" fill="#fff">0.00</text><text y="3" stroke="#2222d8" stroke-width="0.25">0.00</text></g>
<g transform="translate(331.8 313.7) rotate(40)"><rect x="-11.5" y="-1.8" width="22.9" height="3.6" fill="#fff" stroke="none"/><text y="3" stroke="#fff" stroke-width="1.3" fill="#fff">-0.02</text><text y="3" stroke="#2222d8" stroke-width="0.25">-0.02</text></g>
<g transform="translate(319.5 319.5) rotate(30)"><rect x="-11.5" y="-1.8" width="22.9" height="3.6" fill="#fff" stroke="none"/><text y="3" stroke="#fff" stroke-width="1.3" fill="#fff">-0.05</text><text y="3" stroke="#2222d8" stroke-width="0.25">-0.05</text></g>
<g transform="translate(342.3 347.2) rotate(5)"><rect x="-11.5" y="-1.8" width="22.9" height="3.6" fill="#fff" stroke="none"/><text y="3" stroke="#fff" stroke-width="1.3" fill="#fff">-0.10</text><text y="3" stroke="#2222d8" stroke-width="0.25">-0.10</text></g>
<g transform="translate(422.7 285.7) rotate(45)"><rect x="-10.0" y="-1.8" width="19.9" height="3.6" fill="#fff" stroke="none"/><text y="3" stroke="#fff" stroke-width="1.3" fill="#fff">0.00</text><text y="3" stroke="#2222d8" stroke-width="0.25">0.00</text></g>
<g transform="translate(430.5 312.0) rotate(30)"><rect x="-11.5" y="-1.8" width="22.9" height="3.6" fill="#fff" stroke="none"/><text y="3" stroke="#fff" stroke-width="1.3" fill="#fff">-0.02</text><text y="3" stroke="#2222d8" stroke-width="0.25">-0.02</text></g>
<g transform="translate(120.5 365.5) rotate(-21)"><rect x="-11.5" y="-1.8" width="22.9" height="3.6" fill="#fff" stroke="none"/><text y="3" stroke="#fff" stroke-width="1.3" fill="#fff">-0.10</text><text y="3" stroke="#2222d8" stroke-width="0.25">-0.10</text></g>
<g transform="translate(375.0 363.8) rotate(15)"><rect x="-11.5" y="-1.8" width="22.9" height="3.6" fill="#fff" stroke="none"/><text y="3" stroke="#fff" stroke-width="1.3" fill="#fff">-0.15</text><text y="3" stroke="#2222d8" stroke-width="0.25">-0.15</text></g>
<g transform="translate(337.5 366.0) rotate(-10)"><rect x="-11.5" y="-1.8" width="22.9" height="3.6" fill="#fff" stroke="none"/><text y="3" stroke="#fff" stroke-width="1.3" fill="#fff">-0.17</text><text y="3" stroke="#2222d8" stroke-width="0.25">-0.17</text></g>
<g transform="translate(334.5 376.4) rotate(-25)"><rect x="-11.5" y="-1.8" width="22.9" height="3.6" fill="#fff" stroke="none"/><text y="3" stroke="#fff" stroke-width="1.3" fill="#fff">-0.20</text><text y="3" stroke="#2222d8" stroke-width="0.25">-0.20</text></g>
<g transform="translate(353.7 389.0) rotate(15)"><rect x="-11.5" y="-1.8" width="22.9" height="3.6" fill="#fff" stroke="none"/><text y="3" stroke="#fff" stroke-width="1.3" fill="#fff">-0.25</text><text y="3" stroke="#2222d8" stroke-width="0.25">-0.25</text></g>
<g transform="translate(342.8 398.2) rotate(-47)"><rect x="-11.5" y="-1.8" width="22.9" height="3.6" fill="#fff" stroke="none"/><text y="3" stroke="#fff" stroke-width="1.3" fill="#fff">-0.27</text><text y="3" stroke="#2222d8" stroke-width="0.25">-0.27</text></g>
<g transform="translate(337.1 417.3) rotate(-75)"><rect x="-11.5" y="-1.8" width="22.9" height="3.6" fill="#fff" stroke="none"/><text y="3" stroke="#fff" stroke-width="1.3" fill="#fff">-0.28</text><text y="3" stroke="#2222d8" stroke-width="0.25">-0.28</text></g>
<g transform="translate(418.0 380.6) rotate(-25)"><rect x="-11.5" y="-1.8" width="22.9" height="3.6" fill="#fff" stroke="none"/><text y="3" stroke="#fff" stroke-width="1.3" fill="#fff">-0.18</text><text y="3" stroke="#2222d8" stroke-width="0.25">-0.18</text></g>
<g transform="translate(431.8 379.8) rotate(-15)"><rect x="-11.5" y="-1.8" width="22.9" height="3.6" fill="#fff" stroke="none"/><text y="3" stroke="#fff" stroke-width="1.3" fill="#fff">-0.19</text><text y="3" stroke="#2222d8" stroke-width="0.25">-0.19</text></g>
<g transform="translate(418.8 402.8) rotate(-50)"><rect x="-11.5" y="-1.8" width="22.9" height="3.6" fill="#fff" stroke="none"/><text y="3" stroke="#fff" stroke-width="1.3" fill="#fff">-0.22</text><text y="3" stroke="#2222d8" stroke-width="0.25">-0.22</text></g>
<g transform="translate(414.8 438.0) rotate(-58)"><rect x="-11.5" y="-1.8" width="22.9" height="3.6" fill="#fff" stroke="none"/><text y="3" stroke="#fff" stroke-width="1.3" fill="#fff">-0.25</text><text y="3" stroke="#2222d8" stroke-width="0.25">-0.25</text></g>
<g transform="translate(426.5 452.0) rotate(-78)"><rect x="-11.5" y="-1.8" width="22.9" height="3.6" fill="#fff" stroke="none"/><text y="3" stroke="#fff" stroke-width="1.3" fill="#fff">-0.27</text><text y="3" stroke="#2222d8" stroke-width="0.25">-0.27</text></g>
<g transform="translate(438.7 455.8) rotate(82)"><rect x="-11.5" y="-1.8" width="22.9" height="3.6" fill="#fff" stroke="none"/><text y="3" stroke="#fff" stroke-width="1.3" fill="#fff">-0.28</text><text y="3" stroke="#2222d8" stroke-width="0.25">-0.28</text></g>
<g transform="translate(366.0 459.6) rotate(88)"><rect x="-11.5" y="-1.8" width="22.9" height="3.6" fill="#fff" stroke="none"/><text y="3" stroke="#fff" stroke-width="1.3" fill="#fff">-0.28</text><text y="3" stroke="#2222d8" stroke-width="0.25">-0.28</text></g>
<g transform="translate(379.0 468.0) rotate(65)"><rect x="-11.5" y="-1.8" width="22.9" height="3.6" fill="#fff" stroke="none"/><text y="3" stroke="#fff" stroke-width="1.3" fill="#fff">-0.27</text><text y="3" stroke="#2222d8" stroke-width="0.25">-0.27</text></g>
<g transform="translate(286.9 435.9) rotate(70)"><rect x="-11.5" y="-1.8" width="22.9" height="3.6" fill="#fff" stroke="none"/><text y="3" stroke="#fff" stroke-width="1.3" fill="#fff">-0.25</text><text y="3" stroke="#2222d8" stroke-width="0.25">-0.25</text></g>
<g transform="translate(314.4 475.6) rotate(-45)"><rect x="-11.5" y="-1.8" width="22.9" height="3.6" fill="#fff" stroke="none"/><text y="3" stroke="#fff" stroke-width="1.3" fill="#fff">-0.27</text><text y="3" stroke="#2222d8" stroke-width="0.25">-0.27</text></g>
<g transform="translate(331.3 497.0) rotate(-82)"><rect x="-11.5" y="-1.8" width="22.9" height="3.6" fill="#fff" stroke="none"/><text y="3" stroke="#fff" stroke-width="1.3" fill="#fff">-0.28</text><text y="3" stroke="#2222d8" stroke-width="0.25">-0.28</text></g>
<g transform="translate(282.2 375.7) rotate(42)"><rect x="-11.5" y="-1.8" width="22.9" height="3.6" fill="#fff" stroke="none"/><text y="3" stroke="#fff" stroke-width="1.3" fill="#fff">-0.18</text><text y="3" stroke="#2222d8" stroke-width="0.25">-0.18</text></g>
<g transform="translate(303.9 394.0) rotate(-8)"><rect x="-11.5" y="-1.8" width="22.9" height="3.6" fill="#fff" stroke="none"/><text y="3" stroke="#fff" stroke-width="1.3" fill="#fff">-0.19</text><text y="3" stroke="#2222d8" stroke-width="0.25">-0.19</text></g>
<g transform="translate(324.3 395.0) rotate(-50)"><rect x="-11.5" y="-1.8" width="22.9" height="3.6" fill="#fff" stroke="none"/><text y="3" stroke="#fff" stroke-width="1.3" fill="#fff">-0.22</text><text y="3" stroke="#2222d8" stroke-width="0.25">-0.22</text></g>
<g transform="translate(233.6 379.7) rotate(-50)"><rect x="-11.5" y="-1.8" width="22.9" height="3.6" fill="#fff" stroke="none"/><text y="3" stroke="#fff" stroke-width="1.3" fill="#fff">-0.20</text><text y="3" stroke="#2222d8" stroke-width="0.25">-0.20</text></g>
<g transform="translate(242.1 378.0) rotate(-50)"><rect x="-11.5" y="-1.8" width="22.9" height="3.6" fill="#fff" stroke="none"/><text y="3" stroke="#fff" stroke-width="1.3" fill="#fff">-0.22</text><text y="3" stroke="#2222d8" stroke-width="0.25">-0.22</text></g>
<g transform="translate(236.8 397.4) rotate(-70)"><rect x="-11.5" y="-1.8" width="22.9" height="3.6" fill="#fff" stroke="none"/><text y="3" stroke="#fff" stroke-width="1.3" fill="#fff">-0.25</text><text y="3" stroke="#2222d8" stroke-width="0.25">-0.25</text></g>
<g transform="translate(237.4 422.5) rotate(-72)"><rect x="-11.5" y="-1.8" width="22.9" height="3.6" fill="#fff" stroke="none"/><text y="3" stroke="#fff" stroke-width="1.3" fill="#fff">-0.27</text><text y="3" stroke="#2222d8" stroke-width="0.25">-0.27</text></g>
<g transform="translate(239.9 433.0) rotate(-88)"><rect x="-11.5" y="-1.8" width="22.9" height="3.6" fill="#fff" stroke="none"/><text y="3" stroke="#fff" stroke-width="1.3" fill="#fff">-0.28</text><text y="3" stroke="#2222d8" stroke-width="0.25">-0.28</text></g>
<g transform="translate(257.0 432.0) rotate(-50)"><rect x="-11.5" y="-1.8" width="22.9" height="3.6" fill="#fff" stroke="none"/><text y="3" stroke="#fff" stroke-width="1.3" fill="#fff">-0.30</text><text y="3" stroke="#2222d8" stroke-width="0.25">-0.30</text></g>
<g transform="translate(269.7 419.0) rotate(80)"><rect x="-11.5" y="-1.8" width="22.9" height="3.6" fill="#fff" stroke="none"/><text y="3" stroke="#fff" stroke-width="1.3" fill="#fff">-0.28</text><text y="3" stroke="#2222d8" stroke-width="0.25">-0.28</text></g>
<g transform="translate(274.6 423.0) rotate(72)"><rect x="-11.5" y="-1.8" width="22.9" height="3.6" fill="#fff" stroke="none"/><text y="3" stroke="#fff" stroke-width="1.3" fill="#fff">-0.27</text><text y="3" stroke="#2222d8" stroke-width="0.25">-0.27</text></g>
<g transform="translate(256.0 494.8) rotate(-45)"><rect x="-11.5" y="-1.8" width="22.9" height="3.6" fill="#fff" stroke="none"/><text y="3" stroke="#fff" stroke-width="1.3" fill="#fff">-0.28</text><text y="3" stroke="#2222d8" stroke-width="0.25">-0.28</text></g>
<g transform="translate(197.5 376.0) rotate(20)"><rect x="-11.5" y="-1.8" width="22.9" height="3.6" fill="#fff" stroke="none"/><text y="3" stroke="#fff" stroke-width="1.3" fill="#fff">-0.15</text><text y="3" stroke="#2222d8" stroke-width="0.25">-0.15</text></g>
<g transform="translate(207.8 389.9) rotate(-10)"><rect x="-11.5" y="-1.8" width="22.9" height="3.6" fill="#fff" stroke="none"/><text y="3" stroke="#fff" stroke-width="1.3" fill="#fff">-0.17</text><text y="3" stroke="#2222d8" stroke-width="0.25">-0.17</text></g>
<g transform="translate(201.5 402.5) rotate(28)"><rect x="-11.5" y="-1.8" width="22.9" height="3.6" fill="#fff" stroke="none"/><text y="3" stroke="#fff" stroke-width="1.3" fill="#fff">-0.19</text><text y="3" stroke="#2222d8" stroke-width="0.25">-0.19</text></g>
<g transform="translate(179.0 372.0) rotate(45)"><rect x="-11.5" y="-1.8" width="22.9" height="3.6" fill="#fff" stroke="none"/><text y="3" stroke="#fff" stroke-width="1.3" fill="#fff">-0.18</text><text y="3" stroke="#2222d8" stroke-width="0.25">-0.18</text></g>
<g transform="translate(165.3 366.0) rotate(32)"><rect x="-11.5" y="-1.8" width="22.9" height="3.6" fill="#fff" stroke="none"/><text y="3" stroke="#fff" stroke-width="1.3" fill="#fff">-0.20</text><text y="3" stroke="#2222d8" stroke-width="0.25">-0.20</text></g>
<g transform="translate(168.4 380.0) rotate(50)"><rect x="-11.5" y="-1.8" width="22.9" height="3.6" fill="#fff" stroke="none"/><text y="3" stroke="#fff" stroke-width="1.3" fill="#fff">-0.27</text><text y="3" stroke="#2222d8" stroke-width="0.25">-0.27</text></g>
<g transform="translate(186.8 404.3) rotate(60)"><rect x="-11.5" y="-1.8" width="22.9" height="3.6" fill="#fff" stroke="none"/><text y="3" stroke="#fff" stroke-width="1.3" fill="#fff">-0.22</text><text y="3" stroke="#2222d8" stroke-width="0.25">-0.22</text></g>
<g transform="translate(178.6 399.5) rotate(68)"><rect x="-11.5" y="-1.8" width="22.9" height="3.6" fill="#fff" stroke="none"/><text y="3" stroke="#fff" stroke-width="1.3" fill="#fff">-0.25</text><text y="3" stroke="#2222d8" stroke-width="0.25">-0.25</text></g>
<g transform="translate(169.5 402.0) rotate(-88)"><rect x="-11.5" y="-1.8" width="22.9" height="3.6" fill="#fff" stroke="none"/><text y="3" stroke="#fff" stroke-width="1.3" fill="#fff">-0.28</text><text y="3" stroke="#2222d8" stroke-width="0.25">-0.28</text></g>
<g transform="translate(173.2 404.0) rotate(-85)"><rect x="-11.5" y="-1.8" width="22.9" height="3.6" fill="#fff" stroke="none"/><text y="3" stroke="#fff" stroke-width="1.3" fill="#fff">-0.27</text><text y="3" stroke="#2222d8" stroke-width="0.25">-0.27</text></g>
<g transform="translate(171.5 455.0) rotate(-70)"><rect x="-11.5" y="-1.8" width="22.9" height="3.6" fill="#fff" stroke="none"/><text y="3" stroke="#fff" stroke-width="1.3" fill="#fff">-0.27</text><text y="3" stroke="#2222d8" stroke-width="0.25">-0.27</text></g>
<g transform="translate(202.8 474.0) rotate(-25)"><rect x="-11.5" y="-1.8" width="22.9" height="3.6" fill="#fff" stroke="none"/><text y="3" stroke="#fff" stroke-width="1.3" fill="#fff">-0.25</text><text y="3" stroke="#2222d8" stroke-width="0.25">-0.25</text></g>
<g transform="translate(106.7 412.0) rotate(-25)"><rect x="-11.5" y="-1.8" width="22.9" height="3.6" fill="#fff" stroke="none"/><text y="3" stroke="#fff" stroke-width="1.3" fill="#fff">-0.15</text><text y="3" stroke="#2222d8" stroke-width="0.25">-0.15</text></g>
<g transform="translate(124.0 405.5) rotate(-62)"><rect x="-11.5" y="-1.8" width="22.9" height="3.6" fill="#fff" stroke="none"/><text y="3" stroke="#fff" stroke-width="1.3" fill="#fff">-0.17</text><text y="3" stroke="#2222d8" stroke-width="0.25">-0.17</text></g>
<g transform="translate(132.9 399.0) rotate(-70)"><rect x="-11.5" y="-1.8" width="22.9" height="3.6" fill="#fff" stroke="none"/><text y="3" stroke="#fff" stroke-width="1.3" fill="#fff">-0.19</text><text y="3" stroke="#2222d8" stroke-width="0.25">-0.19</text></g>
<g transform="translate(137.7 407.0) rotate(-76)"><rect x="-11.5" y="-1.8" width="22.9" height="3.6" fill="#fff" stroke="none"/><text y="3" stroke="#fff" stroke-width="1.3" fill="#fff">-0.22</text><text y="3" stroke="#2222d8" stroke-width="0.25">-0.22</text></g>
<g transform="translate(118.5 427.5) rotate(-55)"><rect x="-11.5" y="-1.8" width="22.9" height="3.6" fill="#fff" stroke="none"/><text y="3" stroke="#fff" stroke-width="1.3" fill="#fff">-0.18</text><text y="3" stroke="#2222d8" stroke-width="0.25">-0.18</text></g>
<g transform="translate(124.7 438.0) rotate(-75)"><rect x="-11.5" y="-1.8" width="22.9" height="3.6" fill="#fff" stroke="none"/><text y="3" stroke="#fff" stroke-width="1.3" fill="#fff">-0.20</text><text y="3" stroke="#2222d8" stroke-width="0.25">-0.20</text></g>
<g transform="translate(141.8 423.0) rotate(-85)"><rect x="-11.5" y="-1.8" width="22.9" height="3.6" fill="#fff" stroke="none"/><text y="3" stroke="#fff" stroke-width="1.3" fill="#fff">-0.25</text><text y="3" stroke="#2222d8" stroke-width="0.25">-0.25</text></g>
<g transform="translate(150.3 424.0) rotate(80)"><rect x="-11.5" y="-1.8" width="22.9" height="3.6" fill="#fff" stroke="none"/><text y="3" stroke="#fff" stroke-width="1.3" fill="#fff">-0.28</text><text y="3" stroke="#2222d8" stroke-width="0.25">-0.28</text></g>
<g transform="translate(151.3 449.0) rotate(78)"><rect x="-11.5" y="-1.8" width="22.9" height="3.6" fill="#fff" stroke="none"/><text y="3" stroke="#fff" stroke-width="1.3" fill="#fff">-0.27</text><text y="3" stroke="#2222d8" stroke-width="0.25">-0.27</text></g>
<g transform="translate(103.6 479.5) rotate(-75)"><rect x="-11.5" y="-1.8" width="22.9" height="3.6" fill="#fff" stroke="none"/><text y="3" stroke="#fff" stroke-width="1.3" fill="#fff">-0.19</text><text y="3" stroke="#2222d8" stroke-width="0.25">-0.19</text></g>
<g transform="translate(124.5 485.6) rotate(-88)"><rect x="-11.5" y="-1.8" width="22.9" height="3.6" fill="#fff" stroke="none"/><text y="3" stroke="#fff" stroke-width="1.3" fill="#fff">-0.22</text><text y="3" stroke="#2222d8" stroke-width="0.25">-0.22</text></g>
<g transform="translate(37.4 413.7) rotate(85)"><rect x="-11.5" y="-1.8" width="22.9" height="3.6" fill="#fff" stroke="none"/><text y="3" stroke="#fff" stroke-width="1.3" fill="#fff">-0.10</text><text y="3" stroke="#2222d8" stroke-width="0.25">-0.10</text></g>
<g transform="translate(51.0 393.4) rotate(-88)"><rect x="-11.5" y="-1.8" width="22.9" height="3.6" fill="#fff" stroke="none"/><text y="3" stroke="#fff" stroke-width="1.3" fill="#fff">-0.15</text><text y="3" stroke="#2222d8" stroke-width="0.25">-0.15</text></g>
<g transform="translate(56.8 380.0) rotate(-80)"><rect x="-11.5" y="-1.8" width="22.9" height="3.6" fill="#fff" stroke="none"/><text y="3" stroke="#fff" stroke-width="1.3" fill="#fff">-0.18</text><text y="3" stroke="#2222d8" stroke-width="0.25">-0.18</text></g>
<g transform="translate(56.3 419.0) rotate(85)"><rect x="-11.5" y="-1.8" width="22.9" height="3.6" fill="#fff" stroke="none"/><text y="3" stroke="#fff" stroke-width="1.3" fill="#fff">-0.17</text><text y="3" stroke="#2222d8" stroke-width="0.25">-0.17</text></g>
<g transform="translate(54.3 472.6) rotate(88)"><rect x="-11.5" y="-1.8" width="22.9" height="3.6" fill="#fff" stroke="none"/><text y="3" stroke="#fff" stroke-width="1.3" fill="#fff">-0.15</text><text y="3" stroke="#2222d8" stroke-width="0.25">-0.15</text></g>
<g transform="translate(68.5 495.0) rotate(75)"><rect x="-11.5" y="-1.8" width="22.9" height="3.6" fill="#fff" stroke="none"/><text y="3" stroke="#fff" stroke-width="1.3" fill="#fff">-0.17</text><text y="3" stroke="#2222d8" stroke-width="0.25">-0.17</text></g>
<g transform="translate(68.5 374.0) rotate(60)"><rect x="-11.5" y="-1.8" width="22.9" height="3.6" fill="#fff" stroke="none"/><text y="3" stroke="#fff" stroke-width="1.3" fill="#fff">-0.15</text><text y="3" stroke="#2222d8" stroke-width="0.25">-0.15</text></g>
<g transform="translate(72.5 381.5) rotate(60)"><rect x="-11.5" y="-1.8" width="22.9" height="3.6" fill="#fff" stroke="none"/><text y="3" stroke="#fff" stroke-width="1.3" fill="#fff">-0.19</text><text y="3" stroke="#2222d8" stroke-width="0.25">-0.19</text></g>
<g transform="translate(69.5 397.0) rotate(75)"><rect x="-11.5" y="-1.8" width="22.9" height="3.6" fill="#fff" stroke="none"/><text y="3" stroke="#fff" stroke-width="1.3" fill="#fff">-0.20</text><text y="3" stroke="#2222d8" stroke-width="0.25">-0.20</text></g>
<g transform="translate(79.3 400.5) rotate(75)"><rect x="-11.5" y="-1.8" width="22.9" height="3.6" fill="#fff" stroke="none"/><text y="3" stroke="#fff" stroke-width="1.3" fill="#fff">-0.17</text><text y="3" stroke="#2222d8" stroke-width="0.25">-0.17</text></g>
<g transform="translate(77.5 433.0) rotate(-85)"><rect x="-11.5" y="-1.8" width="22.9" height="3.6" fill="#fff" stroke="none"/><text y="3" stroke="#fff" stroke-width="1.3" fill="#fff">-0.18</text><text y="3" stroke="#2222d8" stroke-width="0.25">-0.18</text></g>
</g>
<line x1="126.4" y1="279.4" x2="126.4" y2="497.4" stroke="#fa7a28" stroke-width="1.15" stroke-dasharray="7.2 1.2" stroke-dashoffset="6.4"/>
<line x1="62.7" y1="364.3" x2="62.7" y2="497.4" stroke="#f01010" stroke-width="2.3"/>
<text x="181.6" y="542.2" textLength="106.6" lengthAdjust="spacingAndGlyphs" font-family="Liberation Serif, Times New Roman, serif" font-size="16" fill="#111">(<tspan font-weight="bold">c</tspan>) FVSW model</text>
</g>
</svg></body></html>
